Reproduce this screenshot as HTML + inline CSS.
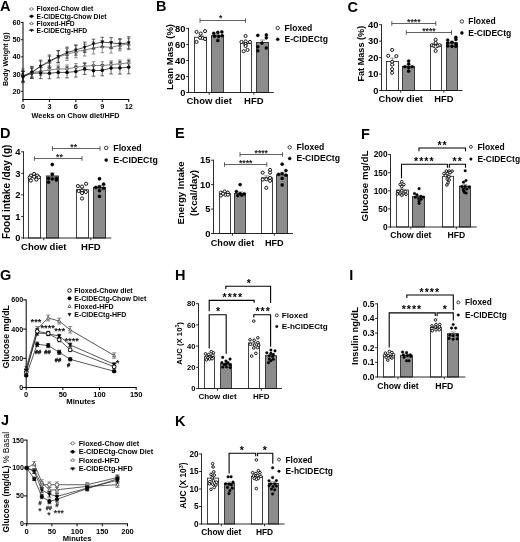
<!DOCTYPE html>
<html><head><meta charset="utf-8"><title>Figure</title>
<style>html,body{margin:0;padding:0;background:#fff}svg{display:block}</style></head>
<body>
<svg width="520" height="542" viewBox="0 0 520 542" font-family='"Liberation Sans", sans-serif'>
<rect width="520" height="542" fill="#fff"/>
<text x="0.00" y="11.30" font-size="14.5" text-anchor="start" font-weight="bold" fill="#000">A</text>
<text x="156.00" y="11.30" font-size="14.5" text-anchor="start" font-weight="bold" fill="#000">B</text>
<text x="347.50" y="12.00" font-size="14.5" text-anchor="start" font-weight="bold" fill="#000">C</text>
<text x="0.00" y="138.30" font-size="14.5" text-anchor="start" font-weight="bold" fill="#000">D</text>
<text x="175.00" y="137.70" font-size="14.5" text-anchor="start" font-weight="bold" fill="#000">E</text>
<text x="361.00" y="138.80" font-size="14.5" text-anchor="start" font-weight="bold" fill="#000">F</text>
<text x="0.00" y="279.50" font-size="14.5" text-anchor="start" font-weight="bold" fill="#000">G</text>
<text x="175.00" y="280.00" font-size="14.5" text-anchor="start" font-weight="bold" fill="#000">H</text>
<text x="349.30" y="280.00" font-size="14.5" text-anchor="start" font-weight="bold" fill="#000">I</text>
<text x="1.00" y="425.00" font-size="14.5" text-anchor="start" font-weight="bold" fill="#000">J</text>
<text x="175.00" y="426.30" font-size="14.5" text-anchor="start" font-weight="bold" fill="#000">K</text>
<polyline points="23.00,75.82 31.81,72.38 40.62,71.52 49.43,69.80 58.24,68.94 67.05,68.94 75.86,67.22 84.67,66.36 93.48,65.50 102.29,65.50 111.10,64.64 119.91,63.78 128.72,62.92" fill="none" stroke="#666" stroke-width="0.8" stroke-linejoin="miter"/>
<line x1="23.00" y1="68.94" x2="23.00" y2="82.70" stroke="#666" stroke-width="0.7" stroke-linecap="butt"/>
<line x1="21.20" y1="68.94" x2="24.80" y2="68.94" stroke="#666" stroke-width="0.7" stroke-linecap="butt"/>
<line x1="21.20" y1="82.70" x2="24.80" y2="82.70" stroke="#666" stroke-width="0.7" stroke-linecap="butt"/>
<line x1="31.81" y1="68.08" x2="31.81" y2="76.68" stroke="#666" stroke-width="0.7" stroke-linecap="butt"/>
<line x1="30.01" y1="68.08" x2="33.61" y2="68.08" stroke="#666" stroke-width="0.7" stroke-linecap="butt"/>
<line x1="30.01" y1="76.68" x2="33.61" y2="76.68" stroke="#666" stroke-width="0.7" stroke-linecap="butt"/>
<line x1="40.62" y1="67.56" x2="40.62" y2="75.48" stroke="#666" stroke-width="0.7" stroke-linecap="butt"/>
<line x1="38.82" y1="67.56" x2="42.42" y2="67.56" stroke="#666" stroke-width="0.7" stroke-linecap="butt"/>
<line x1="38.82" y1="75.48" x2="42.42" y2="75.48" stroke="#666" stroke-width="0.7" stroke-linecap="butt"/>
<line x1="49.43" y1="65.84" x2="49.43" y2="73.76" stroke="#666" stroke-width="0.7" stroke-linecap="butt"/>
<line x1="47.63" y1="65.84" x2="51.23" y2="65.84" stroke="#666" stroke-width="0.7" stroke-linecap="butt"/>
<line x1="47.63" y1="73.76" x2="51.23" y2="73.76" stroke="#666" stroke-width="0.7" stroke-linecap="butt"/>
<line x1="58.24" y1="64.98" x2="58.24" y2="72.90" stroke="#666" stroke-width="0.7" stroke-linecap="butt"/>
<line x1="56.44" y1="64.98" x2="60.04" y2="64.98" stroke="#666" stroke-width="0.7" stroke-linecap="butt"/>
<line x1="56.44" y1="72.90" x2="60.04" y2="72.90" stroke="#666" stroke-width="0.7" stroke-linecap="butt"/>
<line x1="67.05" y1="64.98" x2="67.05" y2="72.90" stroke="#666" stroke-width="0.7" stroke-linecap="butt"/>
<line x1="65.25" y1="64.98" x2="68.85" y2="64.98" stroke="#666" stroke-width="0.7" stroke-linecap="butt"/>
<line x1="65.25" y1="72.90" x2="68.85" y2="72.90" stroke="#666" stroke-width="0.7" stroke-linecap="butt"/>
<line x1="75.86" y1="63.44" x2="75.86" y2="71.00" stroke="#666" stroke-width="0.7" stroke-linecap="butt"/>
<line x1="74.06" y1="63.44" x2="77.66" y2="63.44" stroke="#666" stroke-width="0.7" stroke-linecap="butt"/>
<line x1="74.06" y1="71.00" x2="77.66" y2="71.00" stroke="#666" stroke-width="0.7" stroke-linecap="butt"/>
<line x1="84.67" y1="62.58" x2="84.67" y2="70.14" stroke="#666" stroke-width="0.7" stroke-linecap="butt"/>
<line x1="82.87" y1="62.58" x2="86.47" y2="62.58" stroke="#666" stroke-width="0.7" stroke-linecap="butt"/>
<line x1="82.87" y1="70.14" x2="86.47" y2="70.14" stroke="#666" stroke-width="0.7" stroke-linecap="butt"/>
<line x1="93.48" y1="61.72" x2="93.48" y2="69.28" stroke="#666" stroke-width="0.7" stroke-linecap="butt"/>
<line x1="91.68" y1="61.72" x2="95.28" y2="61.72" stroke="#666" stroke-width="0.7" stroke-linecap="butt"/>
<line x1="91.68" y1="69.28" x2="95.28" y2="69.28" stroke="#666" stroke-width="0.7" stroke-linecap="butt"/>
<line x1="102.29" y1="61.72" x2="102.29" y2="69.28" stroke="#666" stroke-width="0.7" stroke-linecap="butt"/>
<line x1="100.49" y1="61.72" x2="104.09" y2="61.72" stroke="#666" stroke-width="0.7" stroke-linecap="butt"/>
<line x1="100.49" y1="69.28" x2="104.09" y2="69.28" stroke="#666" stroke-width="0.7" stroke-linecap="butt"/>
<line x1="111.10" y1="60.86" x2="111.10" y2="68.42" stroke="#666" stroke-width="0.7" stroke-linecap="butt"/>
<line x1="109.30" y1="60.86" x2="112.90" y2="60.86" stroke="#666" stroke-width="0.7" stroke-linecap="butt"/>
<line x1="109.30" y1="68.42" x2="112.90" y2="68.42" stroke="#666" stroke-width="0.7" stroke-linecap="butt"/>
<line x1="119.91" y1="60.00" x2="119.91" y2="67.56" stroke="#666" stroke-width="0.7" stroke-linecap="butt"/>
<line x1="118.11" y1="60.00" x2="121.71" y2="60.00" stroke="#666" stroke-width="0.7" stroke-linecap="butt"/>
<line x1="118.11" y1="67.56" x2="121.71" y2="67.56" stroke="#666" stroke-width="0.7" stroke-linecap="butt"/>
<line x1="128.72" y1="59.14" x2="128.72" y2="66.70" stroke="#666" stroke-width="0.7" stroke-linecap="butt"/>
<line x1="126.92" y1="59.14" x2="130.52" y2="59.14" stroke="#666" stroke-width="0.7" stroke-linecap="butt"/>
<line x1="126.92" y1="66.70" x2="130.52" y2="66.70" stroke="#666" stroke-width="0.7" stroke-linecap="butt"/>
<circle cx="23.00" cy="75.82" r="1.5" fill="#fff" stroke="#555" stroke-width="0.8"/>
<circle cx="31.81" cy="72.38" r="1.5" fill="#fff" stroke="#555" stroke-width="0.8"/>
<circle cx="40.62" cy="71.52" r="1.5" fill="#fff" stroke="#555" stroke-width="0.8"/>
<circle cx="49.43" cy="69.80" r="1.5" fill="#fff" stroke="#555" stroke-width="0.8"/>
<circle cx="58.24" cy="68.94" r="1.5" fill="#fff" stroke="#555" stroke-width="0.8"/>
<circle cx="67.05" cy="68.94" r="1.5" fill="#fff" stroke="#555" stroke-width="0.8"/>
<circle cx="75.86" cy="67.22" r="1.5" fill="#fff" stroke="#555" stroke-width="0.8"/>
<circle cx="84.67" cy="66.36" r="1.5" fill="#fff" stroke="#555" stroke-width="0.8"/>
<circle cx="93.48" cy="65.50" r="1.5" fill="#fff" stroke="#555" stroke-width="0.8"/>
<circle cx="102.29" cy="65.50" r="1.5" fill="#fff" stroke="#555" stroke-width="0.8"/>
<circle cx="111.10" cy="64.64" r="1.5" fill="#fff" stroke="#555" stroke-width="0.8"/>
<circle cx="119.91" cy="63.78" r="1.5" fill="#fff" stroke="#555" stroke-width="0.8"/>
<circle cx="128.72" cy="62.92" r="1.5" fill="#fff" stroke="#555" stroke-width="0.8"/>
<polyline points="23.00,76.68 31.81,73.24 40.62,73.07 49.43,73.24 58.24,72.38 67.05,72.38 75.86,71.52 84.67,68.94 93.48,70.66 102.29,70.32 111.10,68.08 119.91,67.91 128.72,67.22" fill="none" stroke="#222" stroke-width="0.8" stroke-linejoin="miter"/>
<line x1="23.00" y1="71.52" x2="23.00" y2="81.84" stroke="#222" stroke-width="0.7" stroke-linecap="butt"/>
<line x1="21.20" y1="71.52" x2="24.80" y2="71.52" stroke="#222" stroke-width="0.7" stroke-linecap="butt"/>
<line x1="21.20" y1="81.84" x2="24.80" y2="81.84" stroke="#222" stroke-width="0.7" stroke-linecap="butt"/>
<line x1="31.81" y1="68.08" x2="31.81" y2="78.40" stroke="#222" stroke-width="0.7" stroke-linecap="butt"/>
<line x1="30.01" y1="68.08" x2="33.61" y2="68.08" stroke="#222" stroke-width="0.7" stroke-linecap="butt"/>
<line x1="30.01" y1="78.40" x2="33.61" y2="78.40" stroke="#222" stroke-width="0.7" stroke-linecap="butt"/>
<line x1="40.62" y1="67.56" x2="40.62" y2="78.57" stroke="#222" stroke-width="0.7" stroke-linecap="butt"/>
<line x1="38.82" y1="67.56" x2="42.42" y2="67.56" stroke="#222" stroke-width="0.7" stroke-linecap="butt"/>
<line x1="38.82" y1="78.57" x2="42.42" y2="78.57" stroke="#222" stroke-width="0.7" stroke-linecap="butt"/>
<line x1="49.43" y1="67.74" x2="49.43" y2="78.74" stroke="#222" stroke-width="0.7" stroke-linecap="butt"/>
<line x1="47.63" y1="67.74" x2="51.23" y2="67.74" stroke="#222" stroke-width="0.7" stroke-linecap="butt"/>
<line x1="47.63" y1="78.74" x2="51.23" y2="78.74" stroke="#222" stroke-width="0.7" stroke-linecap="butt"/>
<line x1="58.24" y1="66.88" x2="58.24" y2="77.88" stroke="#222" stroke-width="0.7" stroke-linecap="butt"/>
<line x1="56.44" y1="66.88" x2="60.04" y2="66.88" stroke="#222" stroke-width="0.7" stroke-linecap="butt"/>
<line x1="56.44" y1="77.88" x2="60.04" y2="77.88" stroke="#222" stroke-width="0.7" stroke-linecap="butt"/>
<line x1="67.05" y1="66.88" x2="67.05" y2="77.88" stroke="#222" stroke-width="0.7" stroke-linecap="butt"/>
<line x1="65.25" y1="66.88" x2="68.85" y2="66.88" stroke="#222" stroke-width="0.7" stroke-linecap="butt"/>
<line x1="65.25" y1="77.88" x2="68.85" y2="77.88" stroke="#222" stroke-width="0.7" stroke-linecap="butt"/>
<line x1="75.86" y1="66.02" x2="75.86" y2="77.02" stroke="#222" stroke-width="0.7" stroke-linecap="butt"/>
<line x1="74.06" y1="66.02" x2="77.66" y2="66.02" stroke="#222" stroke-width="0.7" stroke-linecap="butt"/>
<line x1="74.06" y1="77.02" x2="77.66" y2="77.02" stroke="#222" stroke-width="0.7" stroke-linecap="butt"/>
<line x1="84.67" y1="63.44" x2="84.67" y2="74.44" stroke="#222" stroke-width="0.7" stroke-linecap="butt"/>
<line x1="82.87" y1="63.44" x2="86.47" y2="63.44" stroke="#222" stroke-width="0.7" stroke-linecap="butt"/>
<line x1="82.87" y1="74.44" x2="86.47" y2="74.44" stroke="#222" stroke-width="0.7" stroke-linecap="butt"/>
<line x1="93.48" y1="65.16" x2="93.48" y2="76.16" stroke="#222" stroke-width="0.7" stroke-linecap="butt"/>
<line x1="91.68" y1="65.16" x2="95.28" y2="65.16" stroke="#222" stroke-width="0.7" stroke-linecap="butt"/>
<line x1="91.68" y1="76.16" x2="95.28" y2="76.16" stroke="#222" stroke-width="0.7" stroke-linecap="butt"/>
<line x1="102.29" y1="64.81" x2="102.29" y2="75.82" stroke="#222" stroke-width="0.7" stroke-linecap="butt"/>
<line x1="100.49" y1="64.81" x2="104.09" y2="64.81" stroke="#222" stroke-width="0.7" stroke-linecap="butt"/>
<line x1="100.49" y1="75.82" x2="104.09" y2="75.82" stroke="#222" stroke-width="0.7" stroke-linecap="butt"/>
<line x1="111.10" y1="62.23" x2="111.10" y2="73.93" stroke="#222" stroke-width="0.7" stroke-linecap="butt"/>
<line x1="109.30" y1="62.23" x2="112.90" y2="62.23" stroke="#222" stroke-width="0.7" stroke-linecap="butt"/>
<line x1="109.30" y1="73.93" x2="112.90" y2="73.93" stroke="#222" stroke-width="0.7" stroke-linecap="butt"/>
<line x1="119.91" y1="61.72" x2="119.91" y2="74.10" stroke="#222" stroke-width="0.7" stroke-linecap="butt"/>
<line x1="118.11" y1="61.72" x2="121.71" y2="61.72" stroke="#222" stroke-width="0.7" stroke-linecap="butt"/>
<line x1="118.11" y1="74.10" x2="121.71" y2="74.10" stroke="#222" stroke-width="0.7" stroke-linecap="butt"/>
<line x1="128.72" y1="60.68" x2="128.72" y2="73.76" stroke="#222" stroke-width="0.7" stroke-linecap="butt"/>
<line x1="126.92" y1="60.68" x2="130.52" y2="60.68" stroke="#222" stroke-width="0.7" stroke-linecap="butt"/>
<line x1="126.92" y1="73.76" x2="130.52" y2="73.76" stroke="#222" stroke-width="0.7" stroke-linecap="butt"/>
<circle cx="23.00" cy="76.68" r="1.6" fill="#000" stroke="#000" stroke-width="0.2"/>
<circle cx="31.81" cy="73.24" r="1.6" fill="#000" stroke="#000" stroke-width="0.2"/>
<circle cx="40.62" cy="73.07" r="1.6" fill="#000" stroke="#000" stroke-width="0.2"/>
<circle cx="49.43" cy="73.24" r="1.6" fill="#000" stroke="#000" stroke-width="0.2"/>
<circle cx="58.24" cy="72.38" r="1.6" fill="#000" stroke="#000" stroke-width="0.2"/>
<circle cx="67.05" cy="72.38" r="1.6" fill="#000" stroke="#000" stroke-width="0.2"/>
<circle cx="75.86" cy="71.52" r="1.6" fill="#000" stroke="#000" stroke-width="0.2"/>
<circle cx="84.67" cy="68.94" r="1.6" fill="#000" stroke="#000" stroke-width="0.2"/>
<circle cx="93.48" cy="70.66" r="1.6" fill="#000" stroke="#000" stroke-width="0.2"/>
<circle cx="102.29" cy="70.32" r="1.6" fill="#000" stroke="#000" stroke-width="0.2"/>
<circle cx="111.10" cy="68.08" r="1.6" fill="#000" stroke="#000" stroke-width="0.2"/>
<circle cx="119.91" cy="67.91" r="1.6" fill="#000" stroke="#000" stroke-width="0.2"/>
<circle cx="128.72" cy="67.22" r="1.6" fill="#000" stroke="#000" stroke-width="0.2"/>
<polyline points="23.00,75.82 31.81,72.38 40.62,66.36 49.43,62.06 58.24,56.90 67.05,54.32 75.86,51.74 84.67,50.02 93.48,47.96 102.29,46.58 111.10,47.44 119.91,45.20 128.72,44.00" fill="none" stroke="#666" stroke-width="0.8" stroke-linejoin="miter"/>
<line x1="23.00" y1="70.66" x2="23.00" y2="80.98" stroke="#666" stroke-width="0.7" stroke-linecap="butt"/>
<line x1="21.20" y1="70.66" x2="24.80" y2="70.66" stroke="#666" stroke-width="0.7" stroke-linecap="butt"/>
<line x1="21.20" y1="80.98" x2="24.80" y2="80.98" stroke="#666" stroke-width="0.7" stroke-linecap="butt"/>
<line x1="31.81" y1="67.22" x2="31.81" y2="77.54" stroke="#666" stroke-width="0.7" stroke-linecap="butt"/>
<line x1="30.01" y1="67.22" x2="33.61" y2="67.22" stroke="#666" stroke-width="0.7" stroke-linecap="butt"/>
<line x1="30.01" y1="77.54" x2="33.61" y2="77.54" stroke="#666" stroke-width="0.7" stroke-linecap="butt"/>
<line x1="40.62" y1="61.20" x2="40.62" y2="71.52" stroke="#666" stroke-width="0.7" stroke-linecap="butt"/>
<line x1="38.82" y1="61.20" x2="42.42" y2="61.20" stroke="#666" stroke-width="0.7" stroke-linecap="butt"/>
<line x1="38.82" y1="71.52" x2="42.42" y2="71.52" stroke="#666" stroke-width="0.7" stroke-linecap="butt"/>
<line x1="49.43" y1="56.38" x2="49.43" y2="67.74" stroke="#666" stroke-width="0.7" stroke-linecap="butt"/>
<line x1="47.63" y1="56.38" x2="51.23" y2="56.38" stroke="#666" stroke-width="0.7" stroke-linecap="butt"/>
<line x1="47.63" y1="67.74" x2="51.23" y2="67.74" stroke="#666" stroke-width="0.7" stroke-linecap="butt"/>
<line x1="58.24" y1="50.88" x2="58.24" y2="62.92" stroke="#666" stroke-width="0.7" stroke-linecap="butt"/>
<line x1="56.44" y1="50.88" x2="60.04" y2="50.88" stroke="#666" stroke-width="0.7" stroke-linecap="butt"/>
<line x1="56.44" y1="62.92" x2="60.04" y2="62.92" stroke="#666" stroke-width="0.7" stroke-linecap="butt"/>
<line x1="67.05" y1="48.30" x2="67.05" y2="60.34" stroke="#666" stroke-width="0.7" stroke-linecap="butt"/>
<line x1="65.25" y1="48.30" x2="68.85" y2="48.30" stroke="#666" stroke-width="0.7" stroke-linecap="butt"/>
<line x1="65.25" y1="60.34" x2="68.85" y2="60.34" stroke="#666" stroke-width="0.7" stroke-linecap="butt"/>
<line x1="75.86" y1="45.72" x2="75.86" y2="57.76" stroke="#666" stroke-width="0.7" stroke-linecap="butt"/>
<line x1="74.06" y1="45.72" x2="77.66" y2="45.72" stroke="#666" stroke-width="0.7" stroke-linecap="butt"/>
<line x1="74.06" y1="57.76" x2="77.66" y2="57.76" stroke="#666" stroke-width="0.7" stroke-linecap="butt"/>
<line x1="84.67" y1="44.00" x2="84.67" y2="56.04" stroke="#666" stroke-width="0.7" stroke-linecap="butt"/>
<line x1="82.87" y1="44.00" x2="86.47" y2="44.00" stroke="#666" stroke-width="0.7" stroke-linecap="butt"/>
<line x1="82.87" y1="56.04" x2="86.47" y2="56.04" stroke="#666" stroke-width="0.7" stroke-linecap="butt"/>
<line x1="93.48" y1="41.94" x2="93.48" y2="53.98" stroke="#666" stroke-width="0.7" stroke-linecap="butt"/>
<line x1="91.68" y1="41.94" x2="95.28" y2="41.94" stroke="#666" stroke-width="0.7" stroke-linecap="butt"/>
<line x1="91.68" y1="53.98" x2="95.28" y2="53.98" stroke="#666" stroke-width="0.7" stroke-linecap="butt"/>
<line x1="102.29" y1="40.56" x2="102.29" y2="52.60" stroke="#666" stroke-width="0.7" stroke-linecap="butt"/>
<line x1="100.49" y1="40.56" x2="104.09" y2="40.56" stroke="#666" stroke-width="0.7" stroke-linecap="butt"/>
<line x1="100.49" y1="52.60" x2="104.09" y2="52.60" stroke="#666" stroke-width="0.7" stroke-linecap="butt"/>
<line x1="111.10" y1="41.76" x2="111.10" y2="53.12" stroke="#666" stroke-width="0.7" stroke-linecap="butt"/>
<line x1="109.30" y1="41.76" x2="112.90" y2="41.76" stroke="#666" stroke-width="0.7" stroke-linecap="butt"/>
<line x1="109.30" y1="53.12" x2="112.90" y2="53.12" stroke="#666" stroke-width="0.7" stroke-linecap="butt"/>
<line x1="119.91" y1="39.53" x2="119.91" y2="50.88" stroke="#666" stroke-width="0.7" stroke-linecap="butt"/>
<line x1="118.11" y1="39.53" x2="121.71" y2="39.53" stroke="#666" stroke-width="0.7" stroke-linecap="butt"/>
<line x1="118.11" y1="50.88" x2="121.71" y2="50.88" stroke="#666" stroke-width="0.7" stroke-linecap="butt"/>
<line x1="128.72" y1="38.32" x2="128.72" y2="49.68" stroke="#666" stroke-width="0.7" stroke-linecap="butt"/>
<line x1="126.92" y1="38.32" x2="130.52" y2="38.32" stroke="#666" stroke-width="0.7" stroke-linecap="butt"/>
<line x1="126.92" y1="49.68" x2="130.52" y2="49.68" stroke="#666" stroke-width="0.7" stroke-linecap="butt"/>
<polygon points="23.00,74.12 21.39,77.01 24.61,77.01" fill="#fff" stroke="#555" stroke-width="0.8"/>
<polygon points="31.81,70.68 30.20,73.57 33.43,73.57" fill="#fff" stroke="#555" stroke-width="0.8"/>
<polygon points="40.62,64.66 39.01,67.55 42.24,67.55" fill="#fff" stroke="#555" stroke-width="0.8"/>
<polygon points="49.43,60.36 47.81,63.25 51.05,63.25" fill="#fff" stroke="#555" stroke-width="0.8"/>
<polygon points="58.24,55.20 56.62,58.09 59.86,58.09" fill="#fff" stroke="#555" stroke-width="0.8"/>
<polygon points="67.05,52.62 65.44,55.51 68.67,55.51" fill="#fff" stroke="#555" stroke-width="0.8"/>
<polygon points="75.86,50.04 74.25,52.93 77.47,52.93" fill="#fff" stroke="#555" stroke-width="0.8"/>
<polygon points="84.67,48.32 83.06,51.21 86.28,51.21" fill="#fff" stroke="#555" stroke-width="0.8"/>
<polygon points="93.48,46.26 91.87,49.15 95.09,49.15" fill="#fff" stroke="#555" stroke-width="0.8"/>
<polygon points="102.29,44.88 100.68,47.77 103.91,47.77" fill="#fff" stroke="#555" stroke-width="0.8"/>
<polygon points="111.10,45.74 109.49,48.63 112.72,48.63" fill="#fff" stroke="#555" stroke-width="0.8"/>
<polygon points="119.91,43.50 118.30,46.39 121.53,46.39" fill="#fff" stroke="#555" stroke-width="0.8"/>
<polygon points="128.72,42.30 127.11,45.19 130.34,45.19" fill="#fff" stroke="#555" stroke-width="0.8"/>
<polyline points="23.00,76.68 31.81,72.38 40.62,66.19 49.43,61.03 58.24,56.56 67.05,52.60 75.86,50.02 84.67,47.27 93.48,44.00 102.29,42.11 111.10,42.80 119.91,43.83 128.72,42.80" fill="none" stroke="#222" stroke-width="0.8" stroke-linejoin="miter"/>
<line x1="23.00" y1="71.52" x2="23.00" y2="81.84" stroke="#222" stroke-width="0.7" stroke-linecap="butt"/>
<line x1="21.20" y1="71.52" x2="24.80" y2="71.52" stroke="#222" stroke-width="0.7" stroke-linecap="butt"/>
<line x1="21.20" y1="81.84" x2="24.80" y2="81.84" stroke="#222" stroke-width="0.7" stroke-linecap="butt"/>
<line x1="31.81" y1="66.36" x2="31.81" y2="78.40" stroke="#222" stroke-width="0.7" stroke-linecap="butt"/>
<line x1="30.01" y1="66.36" x2="33.61" y2="66.36" stroke="#222" stroke-width="0.7" stroke-linecap="butt"/>
<line x1="30.01" y1="78.40" x2="33.61" y2="78.40" stroke="#222" stroke-width="0.7" stroke-linecap="butt"/>
<line x1="40.62" y1="60.17" x2="40.62" y2="72.21" stroke="#222" stroke-width="0.7" stroke-linecap="butt"/>
<line x1="38.82" y1="60.17" x2="42.42" y2="60.17" stroke="#222" stroke-width="0.7" stroke-linecap="butt"/>
<line x1="38.82" y1="72.21" x2="42.42" y2="72.21" stroke="#222" stroke-width="0.7" stroke-linecap="butt"/>
<line x1="49.43" y1="55.01" x2="49.43" y2="67.05" stroke="#222" stroke-width="0.7" stroke-linecap="butt"/>
<line x1="47.63" y1="55.01" x2="51.23" y2="55.01" stroke="#222" stroke-width="0.7" stroke-linecap="butt"/>
<line x1="47.63" y1="67.05" x2="51.23" y2="67.05" stroke="#222" stroke-width="0.7" stroke-linecap="butt"/>
<line x1="58.24" y1="50.54" x2="58.24" y2="62.58" stroke="#222" stroke-width="0.7" stroke-linecap="butt"/>
<line x1="56.44" y1="50.54" x2="60.04" y2="50.54" stroke="#222" stroke-width="0.7" stroke-linecap="butt"/>
<line x1="56.44" y1="62.58" x2="60.04" y2="62.58" stroke="#222" stroke-width="0.7" stroke-linecap="butt"/>
<line x1="67.05" y1="47.10" x2="67.05" y2="58.10" stroke="#222" stroke-width="0.7" stroke-linecap="butt"/>
<line x1="65.25" y1="47.10" x2="68.85" y2="47.10" stroke="#222" stroke-width="0.7" stroke-linecap="butt"/>
<line x1="65.25" y1="58.10" x2="68.85" y2="58.10" stroke="#222" stroke-width="0.7" stroke-linecap="butt"/>
<line x1="75.86" y1="44.86" x2="75.86" y2="55.18" stroke="#222" stroke-width="0.7" stroke-linecap="butt"/>
<line x1="74.06" y1="44.86" x2="77.66" y2="44.86" stroke="#222" stroke-width="0.7" stroke-linecap="butt"/>
<line x1="74.06" y1="55.18" x2="77.66" y2="55.18" stroke="#222" stroke-width="0.7" stroke-linecap="butt"/>
<line x1="84.67" y1="42.11" x2="84.67" y2="52.43" stroke="#222" stroke-width="0.7" stroke-linecap="butt"/>
<line x1="82.87" y1="42.11" x2="86.47" y2="42.11" stroke="#222" stroke-width="0.7" stroke-linecap="butt"/>
<line x1="82.87" y1="52.43" x2="86.47" y2="52.43" stroke="#222" stroke-width="0.7" stroke-linecap="butt"/>
<line x1="93.48" y1="39.18" x2="93.48" y2="48.82" stroke="#222" stroke-width="0.7" stroke-linecap="butt"/>
<line x1="91.68" y1="39.18" x2="95.28" y2="39.18" stroke="#222" stroke-width="0.7" stroke-linecap="butt"/>
<line x1="91.68" y1="48.82" x2="95.28" y2="48.82" stroke="#222" stroke-width="0.7" stroke-linecap="butt"/>
<line x1="102.29" y1="37.29" x2="102.29" y2="46.92" stroke="#222" stroke-width="0.7" stroke-linecap="butt"/>
<line x1="100.49" y1="37.29" x2="104.09" y2="37.29" stroke="#222" stroke-width="0.7" stroke-linecap="butt"/>
<line x1="100.49" y1="46.92" x2="104.09" y2="46.92" stroke="#222" stroke-width="0.7" stroke-linecap="butt"/>
<line x1="111.10" y1="37.64" x2="111.10" y2="47.96" stroke="#222" stroke-width="0.7" stroke-linecap="butt"/>
<line x1="109.30" y1="37.64" x2="112.90" y2="37.64" stroke="#222" stroke-width="0.7" stroke-linecap="butt"/>
<line x1="109.30" y1="47.96" x2="112.90" y2="47.96" stroke="#222" stroke-width="0.7" stroke-linecap="butt"/>
<line x1="119.91" y1="38.67" x2="119.91" y2="48.99" stroke="#222" stroke-width="0.7" stroke-linecap="butt"/>
<line x1="118.11" y1="38.67" x2="121.71" y2="38.67" stroke="#222" stroke-width="0.7" stroke-linecap="butt"/>
<line x1="118.11" y1="48.99" x2="121.71" y2="48.99" stroke="#222" stroke-width="0.7" stroke-linecap="butt"/>
<line x1="128.72" y1="36.78" x2="128.72" y2="48.82" stroke="#222" stroke-width="0.7" stroke-linecap="butt"/>
<line x1="126.92" y1="36.78" x2="130.52" y2="36.78" stroke="#222" stroke-width="0.7" stroke-linecap="butt"/>
<line x1="126.92" y1="48.82" x2="130.52" y2="48.82" stroke="#222" stroke-width="0.7" stroke-linecap="butt"/>
<polygon points="23.00,78.38 21.39,75.49 24.61,75.49" fill="#000" stroke="#000" stroke-width="0.3"/>
<polygon points="31.81,74.08 30.20,71.19 33.43,71.19" fill="#000" stroke="#000" stroke-width="0.3"/>
<polygon points="40.62,67.89 39.01,65.00 42.24,65.00" fill="#000" stroke="#000" stroke-width="0.3"/>
<polygon points="49.43,62.73 47.81,59.84 51.05,59.84" fill="#000" stroke="#000" stroke-width="0.3"/>
<polygon points="58.24,58.26 56.62,55.37 59.86,55.37" fill="#000" stroke="#000" stroke-width="0.3"/>
<polygon points="67.05,54.30 65.44,51.41 68.67,51.41" fill="#000" stroke="#000" stroke-width="0.3"/>
<polygon points="75.86,51.72 74.25,48.83 77.47,48.83" fill="#000" stroke="#000" stroke-width="0.3"/>
<polygon points="84.67,48.97 83.06,46.08 86.28,46.08" fill="#000" stroke="#000" stroke-width="0.3"/>
<polygon points="93.48,45.70 91.87,42.81 95.09,42.81" fill="#000" stroke="#000" stroke-width="0.3"/>
<polygon points="102.29,43.81 100.68,40.92 103.91,40.92" fill="#000" stroke="#000" stroke-width="0.3"/>
<polygon points="111.10,44.50 109.49,41.61 112.72,41.61" fill="#000" stroke="#000" stroke-width="0.3"/>
<polygon points="119.91,45.53 118.30,42.64 121.53,42.64" fill="#000" stroke="#000" stroke-width="0.3"/>
<polygon points="128.72,44.50 127.11,41.61 130.34,41.61" fill="#000" stroke="#000" stroke-width="0.3"/>
<line x1="23.00" y1="22.00" x2="23.00" y2="100.00" stroke="#000" stroke-width="1" stroke-linecap="butt"/>
<line x1="22.50" y1="99.50" x2="129.22" y2="99.50" stroke="#000" stroke-width="1" stroke-linecap="butt"/>
<line x1="21.00" y1="91.30" x2="23.00" y2="91.30" stroke="#000" stroke-width="0.9" stroke-linecap="butt"/>
<text x="20.70" y="93.85" font-size="7.4" text-anchor="end" font-weight="bold" fill="#000">20</text>
<line x1="21.00" y1="74.10" x2="23.00" y2="74.10" stroke="#000" stroke-width="0.9" stroke-linecap="butt"/>
<text x="20.70" y="76.65" font-size="7.4" text-anchor="end" font-weight="bold" fill="#000">30</text>
<line x1="21.00" y1="56.90" x2="23.00" y2="56.90" stroke="#000" stroke-width="0.9" stroke-linecap="butt"/>
<text x="20.70" y="59.45" font-size="7.4" text-anchor="end" font-weight="bold" fill="#000">40</text>
<line x1="21.00" y1="39.70" x2="23.00" y2="39.70" stroke="#000" stroke-width="0.9" stroke-linecap="butt"/>
<text x="20.70" y="42.25" font-size="7.4" text-anchor="end" font-weight="bold" fill="#000">50</text>
<line x1="21.00" y1="22.50" x2="23.00" y2="22.50" stroke="#000" stroke-width="0.9" stroke-linecap="butt"/>
<text x="20.70" y="25.05" font-size="7.4" text-anchor="end" font-weight="bold" fill="#000">60</text>
<line x1="23.00" y1="99.50" x2="23.00" y2="102.00" stroke="#000" stroke-width="1" stroke-linecap="butt"/>
<text x="23.00" y="108.52" font-size="7.3" text-anchor="middle" font-weight="bold" fill="#000">0</text>
<line x1="49.43" y1="99.50" x2="49.43" y2="102.00" stroke="#000" stroke-width="1" stroke-linecap="butt"/>
<text x="49.43" y="108.52" font-size="7.3" text-anchor="middle" font-weight="bold" fill="#000">3</text>
<line x1="75.86" y1="99.50" x2="75.86" y2="102.00" stroke="#000" stroke-width="1" stroke-linecap="butt"/>
<text x="75.86" y="108.52" font-size="7.3" text-anchor="middle" font-weight="bold" fill="#000">6</text>
<line x1="102.29" y1="99.50" x2="102.29" y2="102.00" stroke="#000" stroke-width="1" stroke-linecap="butt"/>
<text x="102.29" y="108.52" font-size="7.3" text-anchor="middle" font-weight="bold" fill="#000">9</text>
<line x1="128.72" y1="99.50" x2="128.72" y2="102.00" stroke="#000" stroke-width="1" stroke-linecap="butt"/>
<text x="128.72" y="108.52" font-size="7.3" text-anchor="middle" font-weight="bold" fill="#000">12</text>
<text font-size="7.0" text-anchor="middle" font-weight="bold" transform="translate(7.51 59.30) rotate(-90)">Body Weight (g)</text>
<text x="75.50" y="118.02" font-size="7.3" text-anchor="middle" font-weight="bold" fill="#000">Weeks on Chow diet/HFD</text>
<line x1="28.90" y1="9.00" x2="34.10" y2="9.00" stroke="#666" stroke-width="0.7" stroke-linecap="butt"/>
<line x1="28.90" y1="16.20" x2="34.10" y2="16.20" stroke="#000" stroke-width="0.7" stroke-linecap="butt"/>
<line x1="28.90" y1="23.30" x2="34.10" y2="23.30" stroke="#666" stroke-width="0.7" stroke-linecap="butt"/>
<line x1="28.90" y1="30.40" x2="34.10" y2="30.40" stroke="#000" stroke-width="0.7" stroke-linecap="butt"/>
<circle cx="31.50" cy="9.00" r="1.4" fill="#fff" stroke="#666" stroke-width="0.7"/>
<circle cx="31.50" cy="16.20" r="1.5" fill="#000" stroke="#000" stroke-width="0.2"/>
<polygon points="31.50,21.70 29.98,24.42 33.02,24.42" fill="#fff" stroke="#666" stroke-width="0.7"/>
<polygon points="31.50,32.00 29.98,29.28 33.02,29.28" fill="#000" stroke="#000" stroke-width="0.3"/>
<text x="36.60" y="11.35" font-size="6.8" text-anchor="start" font-weight="bold" fill="#000">Floxed-Chow diet</text>
<text x="36.60" y="18.55" font-size="6.8" text-anchor="start" font-weight="bold" fill="#000">E-CIDECtg-Chow Diet</text>
<text x="36.60" y="25.65" font-size="6.8" text-anchor="start" font-weight="bold" fill="#000">Floxed-HFD</text>
<text x="36.60" y="32.75" font-size="6.8" text-anchor="start" font-weight="bold" fill="#000">E-CIDECtg-HFD</text>
<rect x="194.50" y="37.21" width="12.00" height="55.29" fill="#fff" stroke="#222" stroke-width="0.85"/>
<line x1="200.85" y1="35.61" x2="200.85" y2="38.82" stroke="#777" stroke-width="0.7" stroke-linecap="butt"/>
<line x1="198.35" y1="35.61" x2="203.35" y2="35.61" stroke="#777" stroke-width="0.7" stroke-linecap="butt"/>
<line x1="198.35" y1="38.82" x2="203.35" y2="38.82" stroke="#777" stroke-width="0.7" stroke-linecap="butt"/>
<circle cx="196.54" cy="31.94" r="1.55" fill="#fff" stroke="#000" stroke-width="0.9"/>
<circle cx="205.04" cy="31.12" r="1.55" fill="#fff" stroke="#000" stroke-width="0.9"/>
<circle cx="200.79" cy="33.58" r="1.55" fill="#fff" stroke="#000" stroke-width="0.9"/>
<circle cx="200.13" cy="37.83" r="1.55" fill="#fff" stroke="#000" stroke-width="0.9"/>
<circle cx="202.75" cy="38.15" r="1.55" fill="#fff" stroke="#000" stroke-width="0.9"/>
<circle cx="205.04" cy="38.97" r="1.55" fill="#fff" stroke="#000" stroke-width="0.9"/>
<circle cx="196.54" cy="41.91" r="1.55" fill="#fff" stroke="#000" stroke-width="0.9"/>
<rect x="211.50" y="35.61" width="12.00" height="56.89" fill="#8c8c8c" stroke="#222" stroke-width="0.85"/>
<line x1="217.55" y1="34.41" x2="217.55" y2="35.61" stroke="#777" stroke-width="0.7" stroke-linecap="butt"/>
<line x1="215.05" y1="34.41" x2="220.05" y2="34.41" stroke="#777" stroke-width="0.7" stroke-linecap="butt"/>
<circle cx="213.70" cy="33.25" r="1.6" fill="#000" stroke="#000" stroke-width="0.3"/>
<circle cx="217.79" cy="32.43" r="1.6" fill="#000" stroke="#000" stroke-width="0.3"/>
<circle cx="221.87" cy="31.94" r="1.6" fill="#000" stroke="#000" stroke-width="0.3"/>
<circle cx="214.52" cy="36.19" r="1.6" fill="#000" stroke="#000" stroke-width="0.3"/>
<circle cx="218.60" cy="36.52" r="1.6" fill="#000" stroke="#000" stroke-width="0.3"/>
<circle cx="222.20" cy="35.70" r="1.6" fill="#000" stroke="#000" stroke-width="0.3"/>
<circle cx="217.79" cy="40.60" r="1.6" fill="#000" stroke="#000" stroke-width="0.3"/>
<rect x="240.50" y="43.62" width="11.00" height="48.88" fill="#fff" stroke="#222" stroke-width="0.85"/>
<line x1="245.65" y1="42.18" x2="245.65" y2="45.07" stroke="#777" stroke-width="0.7" stroke-linecap="butt"/>
<line x1="243.15" y1="42.18" x2="248.15" y2="42.18" stroke="#777" stroke-width="0.7" stroke-linecap="butt"/>
<line x1="243.15" y1="45.07" x2="248.15" y2="45.07" stroke="#777" stroke-width="0.7" stroke-linecap="butt"/>
<circle cx="245.57" cy="36.03" r="1.55" fill="#fff" stroke="#000" stroke-width="0.9"/>
<circle cx="241.49" cy="41.91" r="1.55" fill="#fff" stroke="#000" stroke-width="0.9"/>
<circle cx="245.57" cy="41.42" r="1.55" fill="#fff" stroke="#000" stroke-width="0.9"/>
<circle cx="249.99" cy="41.91" r="1.55" fill="#fff" stroke="#000" stroke-width="0.9"/>
<circle cx="245.57" cy="44.20" r="1.55" fill="#fff" stroke="#000" stroke-width="0.9"/>
<circle cx="245.57" cy="46.00" r="1.55" fill="#fff" stroke="#000" stroke-width="0.9"/>
<circle cx="243.61" cy="51.23" r="1.55" fill="#fff" stroke="#000" stroke-width="0.9"/>
<circle cx="247.54" cy="49.92" r="1.55" fill="#fff" stroke="#000" stroke-width="0.9"/>
<rect x="256.50" y="42.42" width="12.00" height="50.08" fill="#8c8c8c" stroke="#222" stroke-width="0.85"/>
<line x1="262.50" y1="40.02" x2="262.50" y2="42.42" stroke="#777" stroke-width="0.7" stroke-linecap="butt"/>
<line x1="260.00" y1="40.02" x2="265.00" y2="40.02" stroke="#777" stroke-width="0.7" stroke-linecap="butt"/>
<circle cx="257.83" cy="35.37" r="1.6" fill="#000" stroke="#000" stroke-width="0.3"/>
<circle cx="266.33" cy="34.88" r="1.6" fill="#000" stroke="#000" stroke-width="0.3"/>
<circle cx="266.33" cy="37.83" r="1.6" fill="#000" stroke="#000" stroke-width="0.3"/>
<circle cx="261.92" cy="43.06" r="1.6" fill="#000" stroke="#000" stroke-width="0.3"/>
<circle cx="257.83" cy="46.82" r="1.6" fill="#000" stroke="#000" stroke-width="0.3"/>
<circle cx="266.33" cy="47.96" r="1.6" fill="#000" stroke="#000" stroke-width="0.3"/>
<circle cx="257.83" cy="50.74" r="1.6" fill="#000" stroke="#000" stroke-width="0.3"/>
<line x1="188.50" y1="27.95" x2="188.50" y2="92.95" stroke="#151515" stroke-width="0.9" stroke-linecap="butt"/>
<line x1="188.05" y1="92.50" x2="273.80" y2="92.50" stroke="#151515" stroke-width="0.9" stroke-linecap="butt"/>
<line x1="186.10" y1="92.50" x2="188.50" y2="92.50" stroke="#151515" stroke-width="0.9" stroke-linecap="butt"/>
<text x="185.50" y="95.74" font-size="9.4" text-anchor="end" font-weight="bold" fill="#000">0</text>
<line x1="186.10" y1="76.47" x2="188.50" y2="76.47" stroke="#151515" stroke-width="0.9" stroke-linecap="butt"/>
<text x="185.50" y="79.72" font-size="9.4" text-anchor="end" font-weight="bold" fill="#000">20</text>
<line x1="186.10" y1="60.45" x2="188.50" y2="60.45" stroke="#151515" stroke-width="0.9" stroke-linecap="butt"/>
<text x="185.50" y="63.69" font-size="9.4" text-anchor="end" font-weight="bold" fill="#000">40</text>
<line x1="186.10" y1="44.43" x2="188.50" y2="44.43" stroke="#151515" stroke-width="0.9" stroke-linecap="butt"/>
<text x="185.50" y="47.67" font-size="9.4" text-anchor="end" font-weight="bold" fill="#000">60</text>
<line x1="186.10" y1="28.40" x2="188.50" y2="28.40" stroke="#151515" stroke-width="0.9" stroke-linecap="butt"/>
<text x="185.50" y="31.64" font-size="9.4" text-anchor="end" font-weight="bold" fill="#000">80</text>
<line x1="209.20" y1="92.50" x2="209.20" y2="94.70" stroke="#151515" stroke-width="0.9" stroke-linecap="butt"/>
<text x="209.20" y="103.78" font-size="9.5" text-anchor="middle" font-weight="bold" fill="#000">Chow diet</text>
<line x1="253.80" y1="92.50" x2="253.80" y2="94.70" stroke="#151515" stroke-width="0.9" stroke-linecap="butt"/>
<text x="253.80" y="103.78" font-size="9.5" text-anchor="middle" font-weight="bold" fill="#000">HFD</text>
<text font-size="9.5" text-anchor="middle" font-weight="bold" transform="translate(172.68 57.00) rotate(-90)">Lean Mass (%)</text>
<circle cx="277.70" cy="28.00" r="1.7" fill="#fff" stroke="#000" stroke-width="0.75"/>
<circle cx="277.70" cy="39.30" r="1.55" fill="#000" stroke="#000" stroke-width="0.3"/>
<text x="284.50" y="30.97" font-size="8.6" text-anchor="start" font-weight="bold" fill="#000">Floxed</text>
<text x="284.50" y="42.27" font-size="8.6" text-anchor="start" font-weight="bold" fill="#000">E-CIDECtg</text>
<line x1="200.00" y1="20.50" x2="245.50" y2="20.50" stroke="#3a3a3a" stroke-width="0.8" stroke-linecap="butt"/>
<line x1="200.00" y1="18.20" x2="200.00" y2="22.80" stroke="#3a3a3a" stroke-width="0.8" stroke-linecap="butt"/>
<line x1="245.50" y1="18.20" x2="245.50" y2="22.80" stroke="#3a3a3a" stroke-width="0.8" stroke-linecap="butt"/>
<text x="220.60" y="21.29" font-size="8.6" text-anchor="middle" font-weight="bold" fill="#222">*</text>
<rect x="386.50" y="61.55" width="12.00" height="28.95" fill="#fff" stroke="#222" stroke-width="0.85"/>
<line x1="392.50" y1="58.09" x2="392.50" y2="65.00" stroke="#777" stroke-width="0.7" stroke-linecap="butt"/>
<line x1="390.00" y1="58.09" x2="395.00" y2="58.09" stroke="#777" stroke-width="0.7" stroke-linecap="butt"/>
<line x1="390.00" y1="65.00" x2="395.00" y2="65.00" stroke="#777" stroke-width="0.7" stroke-linecap="butt"/>
<circle cx="392.13" cy="49.92" r="1.55" fill="#fff" stroke="#000" stroke-width="0.9"/>
<circle cx="388.21" cy="55.81" r="1.55" fill="#fff" stroke="#000" stroke-width="0.9"/>
<circle cx="396.38" cy="56.13" r="1.55" fill="#fff" stroke="#000" stroke-width="0.9"/>
<circle cx="392.13" cy="61.85" r="1.55" fill="#fff" stroke="#000" stroke-width="0.9"/>
<circle cx="392.13" cy="64.63" r="1.55" fill="#fff" stroke="#000" stroke-width="0.9"/>
<circle cx="392.13" cy="69.21" r="1.55" fill="#fff" stroke="#000" stroke-width="0.9"/>
<circle cx="392.13" cy="72.80" r="1.55" fill="#fff" stroke="#000" stroke-width="0.9"/>
<rect x="402.50" y="66.32" width="12.00" height="24.18" fill="#8c8c8c" stroke="#222" stroke-width="0.85"/>
<line x1="408.60" y1="64.84" x2="408.60" y2="66.32" stroke="#777" stroke-width="0.7" stroke-linecap="butt"/>
<line x1="406.10" y1="64.84" x2="411.10" y2="64.84" stroke="#777" stroke-width="0.7" stroke-linecap="butt"/>
<circle cx="408.64" cy="61.04" r="1.6" fill="#000" stroke="#000" stroke-width="0.3"/>
<circle cx="408.64" cy="63.98" r="1.6" fill="#000" stroke="#000" stroke-width="0.3"/>
<circle cx="404.88" cy="66.76" r="1.6" fill="#000" stroke="#000" stroke-width="0.3"/>
<circle cx="412.24" cy="66.76" r="1.6" fill="#000" stroke="#000" stroke-width="0.3"/>
<circle cx="408.64" cy="67.57" r="1.6" fill="#000" stroke="#000" stroke-width="0.3"/>
<circle cx="408.64" cy="71.17" r="1.6" fill="#000" stroke="#000" stroke-width="0.3"/>
<rect x="430.50" y="44.93" width="11.00" height="45.57" fill="#fff" stroke="#222" stroke-width="0.85"/>
<line x1="436.05" y1="43.62" x2="436.05" y2="46.25" stroke="#777" stroke-width="0.7" stroke-linecap="butt"/>
<line x1="433.55" y1="43.62" x2="438.55" y2="43.62" stroke="#777" stroke-width="0.7" stroke-linecap="butt"/>
<line x1="433.55" y1="46.25" x2="438.55" y2="46.25" stroke="#777" stroke-width="0.7" stroke-linecap="butt"/>
<circle cx="435.61" cy="39.79" r="1.55" fill="#fff" stroke="#000" stroke-width="0.9"/>
<circle cx="435.61" cy="43.06" r="1.55" fill="#fff" stroke="#000" stroke-width="0.9"/>
<circle cx="431.85" cy="45.18" r="1.55" fill="#fff" stroke="#000" stroke-width="0.9"/>
<circle cx="439.54" cy="45.18" r="1.55" fill="#fff" stroke="#000" stroke-width="0.9"/>
<circle cx="433.65" cy="45.83" r="1.55" fill="#fff" stroke="#000" stroke-width="0.9"/>
<circle cx="437.57" cy="45.83" r="1.55" fill="#fff" stroke="#000" stroke-width="0.9"/>
<circle cx="435.61" cy="46.65" r="1.55" fill="#fff" stroke="#000" stroke-width="0.9"/>
<circle cx="435.61" cy="50.90" r="1.55" fill="#fff" stroke="#000" stroke-width="0.9"/>
<rect x="446.50" y="42.80" width="11.00" height="47.70" fill="#8c8c8c" stroke="#222" stroke-width="0.85"/>
<line x1="451.90" y1="41.31" x2="451.90" y2="42.80" stroke="#777" stroke-width="0.7" stroke-linecap="butt"/>
<line x1="449.40" y1="41.31" x2="454.40" y2="41.31" stroke="#777" stroke-width="0.7" stroke-linecap="butt"/>
<circle cx="455.88" cy="37.34" r="1.6" fill="#000" stroke="#000" stroke-width="0.3"/>
<circle cx="447.71" cy="40.11" r="1.6" fill="#000" stroke="#000" stroke-width="0.3"/>
<circle cx="455.88" cy="39.46" r="1.6" fill="#000" stroke="#000" stroke-width="0.3"/>
<circle cx="447.71" cy="43.06" r="1.6" fill="#000" stroke="#000" stroke-width="0.3"/>
<circle cx="451.96" cy="42.24" r="1.6" fill="#000" stroke="#000" stroke-width="0.3"/>
<circle cx="455.88" cy="43.87" r="1.6" fill="#000" stroke="#000" stroke-width="0.3"/>
<circle cx="447.71" cy="46.00" r="1.6" fill="#000" stroke="#000" stroke-width="0.3"/>
<circle cx="451.96" cy="46.32" r="1.6" fill="#000" stroke="#000" stroke-width="0.3"/>
<circle cx="455.88" cy="46.32" r="1.6" fill="#000" stroke="#000" stroke-width="0.3"/>
<line x1="381.50" y1="24.25" x2="381.50" y2="90.95" stroke="#151515" stroke-width="0.9" stroke-linecap="butt"/>
<line x1="381.05" y1="90.50" x2="462.50" y2="90.50" stroke="#151515" stroke-width="0.9" stroke-linecap="butt"/>
<line x1="379.10" y1="90.50" x2="381.50" y2="90.50" stroke="#151515" stroke-width="0.9" stroke-linecap="butt"/>
<text x="378.50" y="93.74" font-size="9.4" text-anchor="end" font-weight="bold" fill="#000">0</text>
<line x1="379.10" y1="74.05" x2="381.50" y2="74.05" stroke="#151515" stroke-width="0.9" stroke-linecap="butt"/>
<text x="378.50" y="77.29" font-size="9.4" text-anchor="end" font-weight="bold" fill="#000">10</text>
<line x1="379.10" y1="57.60" x2="381.50" y2="57.60" stroke="#151515" stroke-width="0.9" stroke-linecap="butt"/>
<text x="378.50" y="60.84" font-size="9.4" text-anchor="end" font-weight="bold" fill="#000">20</text>
<line x1="379.10" y1="41.15" x2="381.50" y2="41.15" stroke="#151515" stroke-width="0.9" stroke-linecap="butt"/>
<text x="378.50" y="44.39" font-size="9.4" text-anchor="end" font-weight="bold" fill="#000">30</text>
<line x1="379.10" y1="24.70" x2="381.50" y2="24.70" stroke="#151515" stroke-width="0.9" stroke-linecap="butt"/>
<text x="378.50" y="27.94" font-size="9.4" text-anchor="end" font-weight="bold" fill="#000">40</text>
<line x1="400.70" y1="90.50" x2="400.70" y2="92.70" stroke="#151515" stroke-width="0.9" stroke-linecap="butt"/>
<text x="400.70" y="102.01" font-size="9.3" text-anchor="middle" font-weight="bold" fill="#000">Chow diet</text>
<line x1="443.80" y1="90.50" x2="443.80" y2="92.70" stroke="#151515" stroke-width="0.9" stroke-linecap="butt"/>
<text x="443.80" y="102.01" font-size="9.3" text-anchor="middle" font-weight="bold" fill="#000">HFD</text>
<text font-size="9.15" text-anchor="middle" font-weight="bold" transform="translate(364.06 53.70) rotate(-90)">Fat Mass (%)</text>
<circle cx="461.90" cy="21.40" r="1.7" fill="#fff" stroke="#000" stroke-width="0.75"/>
<circle cx="461.90" cy="32.90" r="1.55" fill="#000" stroke="#000" stroke-width="0.3"/>
<text x="468.30" y="24.33" font-size="8.5" text-anchor="start" font-weight="bold" fill="#000">Floxed</text>
<text x="468.30" y="35.83" font-size="8.5" text-anchor="start" font-weight="bold" fill="#000">E-CIDECtg</text>
<line x1="391.80" y1="23.50" x2="435.80" y2="23.50" stroke="#3a3a3a" stroke-width="0.8" stroke-linecap="butt"/>
<line x1="391.80" y1="21.20" x2="391.80" y2="25.80" stroke="#3a3a3a" stroke-width="0.8" stroke-linecap="butt"/>
<line x1="435.80" y1="21.20" x2="435.80" y2="25.80" stroke="#3a3a3a" stroke-width="0.8" stroke-linecap="butt"/>
<text x="413.80" y="25.19" font-size="8.6" text-anchor="middle" font-weight="bold" fill="#222">****</text>
<line x1="406.30" y1="32.50" x2="451.50" y2="32.50" stroke="#3a3a3a" stroke-width="0.8" stroke-linecap="butt"/>
<line x1="406.30" y1="30.20" x2="406.30" y2="34.80" stroke="#3a3a3a" stroke-width="0.8" stroke-linecap="butt"/>
<line x1="451.50" y1="30.20" x2="451.50" y2="34.80" stroke="#3a3a3a" stroke-width="0.8" stroke-linecap="butt"/>
<text x="428.90" y="33.89" font-size="8.6" text-anchor="middle" font-weight="bold" fill="#222">****</text>
<rect x="28.50" y="176.58" width="12.00" height="61.42" fill="#fff" stroke="#222" stroke-width="0.85"/>
<line x1="34.75" y1="175.72" x2="34.75" y2="177.44" stroke="#777" stroke-width="0.7" stroke-linecap="butt"/>
<line x1="32.25" y1="175.72" x2="37.25" y2="175.72" stroke="#777" stroke-width="0.7" stroke-linecap="butt"/>
<line x1="32.25" y1="177.44" x2="37.25" y2="177.44" stroke="#777" stroke-width="0.7" stroke-linecap="butt"/>
<circle cx="34.13" cy="174.00" r="1.6" fill="#fff" stroke="#000" stroke-width="0.9"/>
<circle cx="30.86" cy="175.63" r="1.6" fill="#fff" stroke="#000" stroke-width="0.9"/>
<circle cx="37.40" cy="175.63" r="1.6" fill="#fff" stroke="#000" stroke-width="0.9"/>
<circle cx="29.72" cy="177.59" r="1.6" fill="#fff" stroke="#000" stroke-width="0.9"/>
<circle cx="34.13" cy="176.78" r="1.6" fill="#fff" stroke="#000" stroke-width="0.9"/>
<circle cx="38.71" cy="177.27" r="1.6" fill="#fff" stroke="#000" stroke-width="0.9"/>
<circle cx="30.86" cy="180.54" r="1.6" fill="#fff" stroke="#000" stroke-width="0.9"/>
<circle cx="36.26" cy="179.56" r="1.6" fill="#fff" stroke="#000" stroke-width="0.9"/>
<rect x="46.50" y="175.94" width="12.00" height="62.06" fill="#8c8c8c" stroke="#222" stroke-width="0.85"/>
<line x1="52.25" y1="172.92" x2="52.25" y2="175.94" stroke="#777" stroke-width="0.7" stroke-linecap="butt"/>
<line x1="49.75" y1="172.92" x2="54.75" y2="172.92" stroke="#777" stroke-width="0.7" stroke-linecap="butt"/>
<circle cx="52.28" cy="164.52" r="1.6500000000000001" fill="#000" stroke="#000" stroke-width="0.3"/>
<circle cx="52.28" cy="174.32" r="1.6500000000000001" fill="#000" stroke="#000" stroke-width="0.3"/>
<circle cx="48.52" cy="178.41" r="1.6500000000000001" fill="#000" stroke="#000" stroke-width="0.3"/>
<circle cx="52.28" cy="178.90" r="1.6500000000000001" fill="#000" stroke="#000" stroke-width="0.3"/>
<circle cx="56.36" cy="178.41" r="1.6500000000000001" fill="#000" stroke="#000" stroke-width="0.3"/>
<circle cx="48.52" cy="182.17" r="1.6500000000000001" fill="#000" stroke="#000" stroke-width="0.3"/>
<circle cx="56.36" cy="180.05" r="1.6500000000000001" fill="#000" stroke="#000" stroke-width="0.3"/>
<rect x="76.50" y="189.73" width="12.00" height="48.27" fill="#fff" stroke="#222" stroke-width="0.85"/>
<line x1="82.10" y1="188.00" x2="82.10" y2="191.45" stroke="#777" stroke-width="0.7" stroke-linecap="butt"/>
<line x1="79.60" y1="188.00" x2="84.60" y2="188.00" stroke="#777" stroke-width="0.7" stroke-linecap="butt"/>
<line x1="79.60" y1="191.45" x2="84.60" y2="191.45" stroke="#777" stroke-width="0.7" stroke-linecap="butt"/>
<circle cx="86.11" cy="183.81" r="1.6" fill="#fff" stroke="#000" stroke-width="0.9"/>
<circle cx="77.94" cy="186.09" r="1.6" fill="#fff" stroke="#000" stroke-width="0.9"/>
<circle cx="82.03" cy="186.58" r="1.6" fill="#fff" stroke="#000" stroke-width="0.9"/>
<circle cx="82.03" cy="190.67" r="1.6" fill="#fff" stroke="#000" stroke-width="0.9"/>
<circle cx="78.76" cy="191.00" r="1.6" fill="#fff" stroke="#000" stroke-width="0.9"/>
<circle cx="85.78" cy="191.98" r="1.6" fill="#fff" stroke="#000" stroke-width="0.9"/>
<circle cx="82.03" cy="193.12" r="1.6" fill="#fff" stroke="#000" stroke-width="0.9"/>
<circle cx="82.03" cy="198.52" r="1.6" fill="#fff" stroke="#000" stroke-width="0.9"/>
<rect x="93.50" y="187.36" width="12.00" height="50.64" fill="#8c8c8c" stroke="#222" stroke-width="0.85"/>
<line x1="99.65" y1="185.42" x2="99.65" y2="187.36" stroke="#777" stroke-width="0.7" stroke-linecap="butt"/>
<line x1="97.15" y1="185.42" x2="102.15" y2="185.42" stroke="#777" stroke-width="0.7" stroke-linecap="butt"/>
<circle cx="99.51" cy="178.74" r="1.6500000000000001" fill="#000" stroke="#000" stroke-width="0.3"/>
<circle cx="103.60" cy="184.13" r="1.6500000000000001" fill="#000" stroke="#000" stroke-width="0.3"/>
<circle cx="95.92" cy="187.40" r="1.6500000000000001" fill="#000" stroke="#000" stroke-width="0.3"/>
<circle cx="99.51" cy="186.91" r="1.6500000000000001" fill="#000" stroke="#000" stroke-width="0.3"/>
<circle cx="103.60" cy="188.22" r="1.6500000000000001" fill="#000" stroke="#000" stroke-width="0.3"/>
<circle cx="99.51" cy="190.67" r="1.6500000000000001" fill="#000" stroke="#000" stroke-width="0.3"/>
<circle cx="99.51" cy="196.39" r="1.6500000000000001" fill="#000" stroke="#000" stroke-width="0.3"/>
<line x1="23.50" y1="151.35" x2="23.50" y2="238.45" stroke="#151515" stroke-width="0.9" stroke-linecap="butt"/>
<line x1="23.05" y1="238.00" x2="111.30" y2="238.00" stroke="#151515" stroke-width="0.9" stroke-linecap="butt"/>
<line x1="21.10" y1="238.00" x2="23.50" y2="238.00" stroke="#151515" stroke-width="0.9" stroke-linecap="butt"/>
<text x="20.50" y="241.24" font-size="9.4" text-anchor="end" font-weight="bold" fill="#000">0</text>
<line x1="21.10" y1="216.45" x2="23.50" y2="216.45" stroke="#151515" stroke-width="0.9" stroke-linecap="butt"/>
<text x="20.50" y="219.69" font-size="9.4" text-anchor="end" font-weight="bold" fill="#000">1</text>
<line x1="21.10" y1="194.90" x2="23.50" y2="194.90" stroke="#151515" stroke-width="0.9" stroke-linecap="butt"/>
<text x="20.50" y="198.14" font-size="9.4" text-anchor="end" font-weight="bold" fill="#000">2</text>
<line x1="21.10" y1="173.35" x2="23.50" y2="173.35" stroke="#151515" stroke-width="0.9" stroke-linecap="butt"/>
<text x="20.50" y="176.59" font-size="9.4" text-anchor="end" font-weight="bold" fill="#000">3</text>
<line x1="21.10" y1="151.80" x2="23.50" y2="151.80" stroke="#151515" stroke-width="0.9" stroke-linecap="butt"/>
<text x="20.50" y="155.04" font-size="9.4" text-anchor="end" font-weight="bold" fill="#000">4</text>
<line x1="43.80" y1="238.00" x2="43.80" y2="240.20" stroke="#151515" stroke-width="0.9" stroke-linecap="butt"/>
<text x="43.80" y="250.28" font-size="9.5" text-anchor="middle" font-weight="bold" fill="#000">Chow diet</text>
<line x1="90.80" y1="238.00" x2="90.80" y2="240.20" stroke="#151515" stroke-width="0.9" stroke-linecap="butt"/>
<text x="90.80" y="250.28" font-size="9.5" text-anchor="middle" font-weight="bold" fill="#000">HFD</text>
<text font-size="10" text-anchor="middle" font-weight="bold" transform="translate(9.75 191.90) rotate(-90)">Food intake /day (g)</text>
<circle cx="106.20" cy="147.90" r="1.75" fill="#fff" stroke="#000" stroke-width="0.75"/>
<circle cx="106.20" cy="160.10" r="1.6" fill="#000" stroke="#000" stroke-width="0.3"/>
<text x="113.30" y="150.94" font-size="8.8" text-anchor="start" font-weight="bold" fill="#000">Floxed</text>
<text x="113.30" y="163.14" font-size="8.8" text-anchor="start" font-weight="bold" fill="#000">E-CIDECtg</text>
<line x1="52.50" y1="148.50" x2="100.00" y2="148.50" stroke="#3a3a3a" stroke-width="0.8" stroke-linecap="butt"/>
<line x1="52.50" y1="146.20" x2="52.50" y2="150.80" stroke="#3a3a3a" stroke-width="0.8" stroke-linecap="butt"/>
<line x1="100.00" y1="146.20" x2="100.00" y2="150.80" stroke="#3a3a3a" stroke-width="0.8" stroke-linecap="butt"/>
<text x="73.70" y="149.79" font-size="8.6" text-anchor="middle" font-weight="bold" fill="#222">**</text>
<line x1="34.40" y1="158.50" x2="82.00" y2="158.50" stroke="#3a3a3a" stroke-width="0.8" stroke-linecap="butt"/>
<line x1="34.40" y1="156.20" x2="34.40" y2="160.80" stroke="#3a3a3a" stroke-width="0.8" stroke-linecap="butt"/>
<line x1="82.00" y1="156.20" x2="82.00" y2="160.80" stroke="#3a3a3a" stroke-width="0.8" stroke-linecap="butt"/>
<text x="59.40" y="159.59" font-size="8.6" text-anchor="middle" font-weight="bold" fill="#222">**</text>
<rect x="219.50" y="193.67" width="11.00" height="39.83" fill="#fff" stroke="#222" stroke-width="0.85"/>
<line x1="224.65" y1="193.09" x2="224.65" y2="194.26" stroke="#777" stroke-width="0.7" stroke-linecap="butt"/>
<line x1="222.15" y1="193.09" x2="227.15" y2="193.09" stroke="#777" stroke-width="0.7" stroke-linecap="butt"/>
<line x1="222.15" y1="194.26" x2="227.15" y2="194.26" stroke="#777" stroke-width="0.7" stroke-linecap="butt"/>
<circle cx="220.86" cy="192.63" r="1.55" fill="#fff" stroke="#000" stroke-width="0.9"/>
<circle cx="224.62" cy="191.49" r="1.55" fill="#fff" stroke="#000" stroke-width="0.9"/>
<circle cx="227.89" cy="192.63" r="1.55" fill="#fff" stroke="#000" stroke-width="0.9"/>
<circle cx="220.86" cy="195.57" r="1.55" fill="#fff" stroke="#000" stroke-width="0.9"/>
<circle cx="225.44" cy="194.76" r="1.55" fill="#fff" stroke="#000" stroke-width="0.9"/>
<circle cx="222.99" cy="193.61" r="1.55" fill="#fff" stroke="#000" stroke-width="0.9"/>
<circle cx="227.89" cy="194.76" r="1.55" fill="#fff" stroke="#000" stroke-width="0.9"/>
<rect x="234.50" y="193.43" width="11.00" height="40.07" fill="#8c8c8c" stroke="#222" stroke-width="0.85"/>
<line x1="240.40" y1="191.96" x2="240.40" y2="193.43" stroke="#777" stroke-width="0.7" stroke-linecap="butt"/>
<line x1="237.90" y1="191.96" x2="242.90" y2="191.96" stroke="#777" stroke-width="0.7" stroke-linecap="butt"/>
<circle cx="240.15" cy="184.62" r="1.6" fill="#000" stroke="#000" stroke-width="0.3"/>
<circle cx="236.39" cy="191.49" r="1.6" fill="#000" stroke="#000" stroke-width="0.3"/>
<circle cx="240.15" cy="193.61" r="1.6" fill="#000" stroke="#000" stroke-width="0.3"/>
<circle cx="244.24" cy="193.94" r="1.6" fill="#000" stroke="#000" stroke-width="0.3"/>
<circle cx="237.70" cy="195.57" r="1.6" fill="#000" stroke="#000" stroke-width="0.3"/>
<circle cx="241.79" cy="195.25" r="1.6" fill="#000" stroke="#000" stroke-width="0.3"/>
<rect x="261.50" y="177.79" width="11.00" height="55.71" fill="#fff" stroke="#222" stroke-width="0.85"/>
<line x1="266.60" y1="175.84" x2="266.60" y2="179.75" stroke="#777" stroke-width="0.7" stroke-linecap="butt"/>
<line x1="264.10" y1="175.84" x2="269.10" y2="175.84" stroke="#777" stroke-width="0.7" stroke-linecap="butt"/>
<line x1="264.10" y1="179.75" x2="269.10" y2="179.75" stroke="#777" stroke-width="0.7" stroke-linecap="butt"/>
<circle cx="270.06" cy="169.91" r="1.55" fill="#fff" stroke="#000" stroke-width="0.9"/>
<circle cx="262.71" cy="172.69" r="1.55" fill="#fff" stroke="#000" stroke-width="0.9"/>
<circle cx="270.06" cy="172.69" r="1.55" fill="#fff" stroke="#000" stroke-width="0.9"/>
<circle cx="262.71" cy="179.56" r="1.55" fill="#fff" stroke="#000" stroke-width="0.9"/>
<circle cx="270.06" cy="177.92" r="1.55" fill="#fff" stroke="#000" stroke-width="0.9"/>
<circle cx="266.30" cy="179.23" r="1.55" fill="#fff" stroke="#000" stroke-width="0.9"/>
<circle cx="270.06" cy="180.86" r="1.55" fill="#fff" stroke="#000" stroke-width="0.9"/>
<circle cx="266.30" cy="187.89" r="1.55" fill="#fff" stroke="#000" stroke-width="0.9"/>
<rect x="276.50" y="174.86" width="11.00" height="58.64" fill="#8c8c8c" stroke="#222" stroke-width="0.85"/>
<line x1="282.25" y1="172.91" x2="282.25" y2="174.86" stroke="#777" stroke-width="0.7" stroke-linecap="butt"/>
<line x1="279.75" y1="172.91" x2="284.75" y2="172.91" stroke="#777" stroke-width="0.7" stroke-linecap="butt"/>
<circle cx="282.16" cy="164.19" r="1.6" fill="#000" stroke="#000" stroke-width="0.3"/>
<circle cx="285.92" cy="170.57" r="1.6" fill="#000" stroke="#000" stroke-width="0.3"/>
<circle cx="278.56" cy="174.32" r="1.6" fill="#000" stroke="#000" stroke-width="0.3"/>
<circle cx="282.16" cy="173.51" r="1.6" fill="#000" stroke="#000" stroke-width="0.3"/>
<circle cx="285.92" cy="175.14" r="1.6" fill="#000" stroke="#000" stroke-width="0.3"/>
<circle cx="282.16" cy="178.41" r="1.6" fill="#000" stroke="#000" stroke-width="0.3"/>
<circle cx="282.16" cy="184.95" r="1.6" fill="#000" stroke="#000" stroke-width="0.3"/>
<line x1="213.50" y1="159.75" x2="213.50" y2="233.95" stroke="#151515" stroke-width="0.9" stroke-linecap="butt"/>
<line x1="213.05" y1="233.50" x2="293.00" y2="233.50" stroke="#151515" stroke-width="0.9" stroke-linecap="butt"/>
<line x1="211.10" y1="233.50" x2="213.50" y2="233.50" stroke="#151515" stroke-width="0.9" stroke-linecap="butt"/>
<text x="210.50" y="236.74" font-size="9.4" text-anchor="end" font-weight="bold" fill="#000">0</text>
<line x1="211.10" y1="209.07" x2="213.50" y2="209.07" stroke="#151515" stroke-width="0.9" stroke-linecap="butt"/>
<text x="210.50" y="212.31" font-size="9.4" text-anchor="end" font-weight="bold" fill="#000">5</text>
<line x1="211.10" y1="184.63" x2="213.50" y2="184.63" stroke="#151515" stroke-width="0.9" stroke-linecap="butt"/>
<text x="210.50" y="187.88" font-size="9.4" text-anchor="end" font-weight="bold" fill="#000">10</text>
<line x1="211.10" y1="160.20" x2="213.50" y2="160.20" stroke="#151515" stroke-width="0.9" stroke-linecap="butt"/>
<text x="210.50" y="163.44" font-size="9.4" text-anchor="end" font-weight="bold" fill="#000">15</text>
<line x1="232.50" y1="233.50" x2="232.50" y2="235.70" stroke="#151515" stroke-width="0.9" stroke-linecap="butt"/>
<text x="232.50" y="245.64" font-size="9.1" text-anchor="middle" font-weight="bold" fill="#000">Chow diet</text>
<line x1="274.30" y1="233.50" x2="274.30" y2="235.70" stroke="#151515" stroke-width="0.9" stroke-linecap="butt"/>
<text x="274.30" y="245.64" font-size="9.1" text-anchor="middle" font-weight="bold" fill="#000">HFD</text>
<text font-size="9.6" text-anchor="middle" font-weight="bold" transform="translate(183.61 193.00) rotate(-90)">Energy Intake</text>
<text font-size="9.6" text-anchor="middle" font-weight="bold" transform="translate(196.51 193.00) rotate(-90)">(Kcal/day)</text>
<circle cx="289.70" cy="147.30" r="1.7" fill="#fff" stroke="#000" stroke-width="0.75"/>
<circle cx="289.70" cy="158.50" r="1.55" fill="#000" stroke="#000" stroke-width="0.3"/>
<text x="296.50" y="150.27" font-size="8.6" text-anchor="start" font-weight="bold" fill="#000">Floxed</text>
<text x="296.50" y="161.47" font-size="8.6" text-anchor="start" font-weight="bold" fill="#000">E-CIDECtg</text>
<line x1="240.00" y1="154.50" x2="282.50" y2="154.50" stroke="#3a3a3a" stroke-width="0.8" stroke-linecap="butt"/>
<line x1="240.00" y1="152.20" x2="240.00" y2="156.80" stroke="#3a3a3a" stroke-width="0.8" stroke-linecap="butt"/>
<line x1="282.50" y1="152.20" x2="282.50" y2="156.80" stroke="#3a3a3a" stroke-width="0.8" stroke-linecap="butt"/>
<text x="261.25" y="155.69" font-size="8.6" text-anchor="middle" font-weight="bold" fill="#222">****</text>
<line x1="224.50" y1="164.50" x2="266.80" y2="164.50" stroke="#3a3a3a" stroke-width="0.8" stroke-linecap="butt"/>
<line x1="224.50" y1="162.20" x2="224.50" y2="166.80" stroke="#3a3a3a" stroke-width="0.8" stroke-linecap="butt"/>
<line x1="266.80" y1="162.20" x2="266.80" y2="166.80" stroke="#3a3a3a" stroke-width="0.8" stroke-linecap="butt"/>
<text x="245.65" y="166.19" font-size="8.6" text-anchor="middle" font-weight="bold" fill="#222">****</text>
<rect x="396.50" y="190.08" width="12.00" height="36.92" fill="#fff" stroke="#222" stroke-width="0.85"/>
<line x1="402.15" y1="188.99" x2="402.15" y2="191.16" stroke="#777" stroke-width="0.7" stroke-linecap="butt"/>
<line x1="399.65" y1="188.99" x2="404.65" y2="188.99" stroke="#777" stroke-width="0.7" stroke-linecap="butt"/>
<line x1="399.65" y1="191.16" x2="404.65" y2="191.16" stroke="#777" stroke-width="0.7" stroke-linecap="butt"/>
<circle cx="401.77" cy="181.68" r="1.3" fill="#fff" stroke="#000" stroke-width="0.9"/>
<circle cx="400.13" cy="184.46" r="1.3" fill="#fff" stroke="#000" stroke-width="0.9"/>
<circle cx="403.89" cy="184.46" r="1.3" fill="#fff" stroke="#000" stroke-width="0.9"/>
<circle cx="401.77" cy="186.58" r="1.3" fill="#fff" stroke="#000" stroke-width="0.9"/>
<circle cx="398.17" cy="191.49" r="1.3" fill="#fff" stroke="#000" stroke-width="0.9"/>
<circle cx="401.77" cy="190.67" r="1.3" fill="#fff" stroke="#000" stroke-width="0.9"/>
<circle cx="405.53" cy="191.49" r="1.3" fill="#fff" stroke="#000" stroke-width="0.9"/>
<circle cx="397.36" cy="193.94" r="1.3" fill="#fff" stroke="#000" stroke-width="0.9"/>
<circle cx="400.13" cy="193.94" r="1.3" fill="#fff" stroke="#000" stroke-width="0.9"/>
<circle cx="403.08" cy="193.94" r="1.3" fill="#fff" stroke="#000" stroke-width="0.9"/>
<circle cx="406.02" cy="194.27" r="1.3" fill="#fff" stroke="#000" stroke-width="0.9"/>
<circle cx="401.77" cy="195.25" r="1.3" fill="#fff" stroke="#000" stroke-width="0.9"/>
<rect x="412.50" y="196.59" width="12.00" height="30.41" fill="#8c8c8c" stroke="#222" stroke-width="0.85"/>
<line x1="418.75" y1="195.51" x2="418.75" y2="196.59" stroke="#777" stroke-width="0.7" stroke-linecap="butt"/>
<line x1="416.25" y1="195.51" x2="421.25" y2="195.51" stroke="#777" stroke-width="0.7" stroke-linecap="butt"/>
<circle cx="419.09" cy="188.71" r="1.35" fill="#000" stroke="#000" stroke-width="0.3"/>
<circle cx="414.52" cy="193.61" r="1.35" fill="#000" stroke="#000" stroke-width="0.3"/>
<circle cx="416.97" cy="194.76" r="1.35" fill="#000" stroke="#000" stroke-width="0.3"/>
<circle cx="421.06" cy="196.39" r="1.35" fill="#000" stroke="#000" stroke-width="0.3"/>
<circle cx="423.51" cy="197.21" r="1.35" fill="#000" stroke="#000" stroke-width="0.3"/>
<circle cx="415.34" cy="197.21" r="1.35" fill="#000" stroke="#000" stroke-width="0.3"/>
<circle cx="418.60" cy="198.52" r="1.35" fill="#000" stroke="#000" stroke-width="0.3"/>
<circle cx="419.09" cy="201.29" r="1.35" fill="#000" stroke="#000" stroke-width="0.3"/>
<circle cx="419.09" cy="203.42" r="1.35" fill="#000" stroke="#000" stroke-width="0.3"/>
<circle cx="421.06" cy="199.17" r="1.35" fill="#000" stroke="#000" stroke-width="0.3"/>
<rect x="442.50" y="176.32" width="11.00" height="50.68" fill="#fff" stroke="#222" stroke-width="0.85"/>
<line x1="448.15" y1="175.23" x2="448.15" y2="177.41" stroke="#777" stroke-width="0.7" stroke-linecap="butt"/>
<line x1="445.65" y1="175.23" x2="450.65" y2="175.23" stroke="#777" stroke-width="0.7" stroke-linecap="butt"/>
<line x1="445.65" y1="177.41" x2="450.65" y2="177.41" stroke="#777" stroke-width="0.7" stroke-linecap="butt"/>
<circle cx="446.39" cy="171.06" r="1.3" fill="#fff" stroke="#000" stroke-width="0.9"/>
<circle cx="449.17" cy="171.06" r="1.3" fill="#fff" stroke="#000" stroke-width="0.9"/>
<circle cx="452.11" cy="171.06" r="1.3" fill="#fff" stroke="#000" stroke-width="0.9"/>
<circle cx="443.94" cy="173.51" r="1.3" fill="#fff" stroke="#000" stroke-width="0.9"/>
<circle cx="447.21" cy="173.51" r="1.3" fill="#fff" stroke="#000" stroke-width="0.9"/>
<circle cx="450.15" cy="172.69" r="1.3" fill="#fff" stroke="#000" stroke-width="0.9"/>
<circle cx="445.57" cy="175.63" r="1.3" fill="#fff" stroke="#000" stroke-width="0.9"/>
<circle cx="448.84" cy="176.78" r="1.3" fill="#fff" stroke="#000" stroke-width="0.9"/>
<circle cx="447.21" cy="179.23" r="1.3" fill="#fff" stroke="#000" stroke-width="0.9"/>
<circle cx="449.17" cy="180.05" r="1.3" fill="#fff" stroke="#000" stroke-width="0.9"/>
<circle cx="448.03" cy="182.82" r="1.3" fill="#fff" stroke="#000" stroke-width="0.9"/>
<circle cx="446.88" cy="184.95" r="1.3" fill="#fff" stroke="#000" stroke-width="0.9"/>
<rect x="459.50" y="186.09" width="11.00" height="40.91" fill="#8c8c8c" stroke="#222" stroke-width="0.85"/>
<line x1="464.90" y1="184.65" x2="464.90" y2="186.09" stroke="#777" stroke-width="0.7" stroke-linecap="butt"/>
<line x1="462.40" y1="184.65" x2="467.40" y2="184.65" stroke="#777" stroke-width="0.7" stroke-linecap="butt"/>
<circle cx="465.19" cy="170.73" r="1.35" fill="#000" stroke="#000" stroke-width="0.3"/>
<circle cx="466.01" cy="180.54" r="1.35" fill="#000" stroke="#000" stroke-width="0.3"/>
<circle cx="463.55" cy="182.17" r="1.35" fill="#000" stroke="#000" stroke-width="0.3"/>
<circle cx="461.92" cy="186.58" r="1.35" fill="#000" stroke="#000" stroke-width="0.3"/>
<circle cx="465.19" cy="186.58" r="1.35" fill="#000" stroke="#000" stroke-width="0.3"/>
<circle cx="469.27" cy="187.07" r="1.35" fill="#000" stroke="#000" stroke-width="0.3"/>
<circle cx="463.55" cy="189.04" r="1.35" fill="#000" stroke="#000" stroke-width="0.3"/>
<circle cx="466.82" cy="189.04" r="1.35" fill="#000" stroke="#000" stroke-width="0.3"/>
<circle cx="464.37" cy="192.30" r="1.35" fill="#000" stroke="#000" stroke-width="0.3"/>
<circle cx="466.01" cy="193.12" r="1.35" fill="#000" stroke="#000" stroke-width="0.3"/>
<circle cx="463.55" cy="190.67" r="1.35" fill="#000" stroke="#000" stroke-width="0.3"/>
<line x1="390.50" y1="154.15" x2="390.50" y2="227.45" stroke="#151515" stroke-width="0.9" stroke-linecap="butt"/>
<line x1="390.05" y1="227.00" x2="476.70" y2="227.00" stroke="#151515" stroke-width="0.9" stroke-linecap="butt"/>
<line x1="388.10" y1="227.00" x2="390.50" y2="227.00" stroke="#151515" stroke-width="0.9" stroke-linecap="butt"/>
<text x="387.50" y="229.86" font-size="8.3" text-anchor="end" font-weight="bold" fill="#000">0</text>
<line x1="388.10" y1="208.90" x2="390.50" y2="208.90" stroke="#151515" stroke-width="0.9" stroke-linecap="butt"/>
<text x="387.50" y="211.76" font-size="8.3" text-anchor="end" font-weight="bold" fill="#000">50</text>
<line x1="388.10" y1="190.80" x2="390.50" y2="190.80" stroke="#151515" stroke-width="0.9" stroke-linecap="butt"/>
<text x="387.50" y="193.66" font-size="8.3" text-anchor="end" font-weight="bold" fill="#000">100</text>
<line x1="388.10" y1="172.70" x2="390.50" y2="172.70" stroke="#151515" stroke-width="0.9" stroke-linecap="butt"/>
<text x="387.50" y="175.56" font-size="8.3" text-anchor="end" font-weight="bold" fill="#000">150</text>
<line x1="388.10" y1="154.60" x2="390.50" y2="154.60" stroke="#151515" stroke-width="0.9" stroke-linecap="butt"/>
<text x="387.50" y="157.46" font-size="8.3" text-anchor="end" font-weight="bold" fill="#000">200</text>
<line x1="410.80" y1="227.00" x2="410.80" y2="229.20" stroke="#151515" stroke-width="0.9" stroke-linecap="butt"/>
<text x="410.80" y="237.97" font-size="8.6" text-anchor="middle" font-weight="bold" fill="#000">Chow diet</text>
<line x1="456.30" y1="227.00" x2="456.30" y2="229.20" stroke="#151515" stroke-width="0.9" stroke-linecap="butt"/>
<text x="456.30" y="237.97" font-size="8.6" text-anchor="middle" font-weight="bold" fill="#000">HFD</text>
<text font-size="9.8" text-anchor="middle" font-weight="bold" transform="translate(368.28 186.00) rotate(-90)">Glucose mg/dL</text>
<circle cx="470.90" cy="146.90" r="1.45" fill="#fff" stroke="#000" stroke-width="0.75"/>
<circle cx="470.90" cy="159.10" r="1.3" fill="#000" stroke="#000" stroke-width="0.3"/>
<text x="477.40" y="149.82" font-size="8.45" text-anchor="start" font-weight="bold" fill="#000">Floxed</text>
<text x="477.40" y="162.02" font-size="8.45" text-anchor="start" font-weight="bold" fill="#000">E-CIDECtg</text>
<polyline points="419.00,151.30 419.00,148.00 465.50,148.00 465.50,151.30" fill="none" stroke="#000" stroke-width="1.1" stroke-linejoin="miter"/>
<text x="442.50" y="148.81" font-size="10.6" text-anchor="middle" font-weight="bold" fill="#000" letter-spacing="1.0">**</text>
<polyline points="401.50,178.20 401.50,164.30 447.40,164.30 447.40,167.80" fill="none" stroke="#000" stroke-width="1.1" stroke-linejoin="miter"/>
<text x="424.30" y="165.01" font-size="10.6" text-anchor="middle" font-weight="bold" fill="#000" letter-spacing="1.0">****</text>
<polyline points="449.30,167.80 449.30,164.30 465.50,164.30 465.50,167.80" fill="none" stroke="#000" stroke-width="1.1" stroke-linejoin="miter"/>
<text x="457.70" y="165.01" font-size="10.6" text-anchor="middle" font-weight="bold" fill="#000" letter-spacing="1.0">**</text>
<rect x="204.50" y="356.70" width="10.00" height="31.80" fill="#fff" stroke="#222" stroke-width="0.85"/>
<line x1="209.65" y1="355.85" x2="209.65" y2="357.55" stroke="#777" stroke-width="0.7" stroke-linecap="butt"/>
<line x1="207.15" y1="355.85" x2="212.15" y2="355.85" stroke="#777" stroke-width="0.7" stroke-linecap="butt"/>
<line x1="207.15" y1="357.55" x2="212.15" y2="357.55" stroke="#777" stroke-width="0.7" stroke-linecap="butt"/>
<circle cx="211.26" cy="351.68" r="1.3" fill="#fff" stroke="#000" stroke-width="0.9"/>
<circle cx="213.38" cy="352.82" r="1.3" fill="#fff" stroke="#000" stroke-width="0.9"/>
<circle cx="205.54" cy="353.81" r="1.3" fill="#fff" stroke="#000" stroke-width="0.9"/>
<circle cx="208.81" cy="354.46" r="1.3" fill="#fff" stroke="#000" stroke-width="0.9"/>
<circle cx="206.85" cy="356.09" r="1.3" fill="#fff" stroke="#000" stroke-width="0.9"/>
<circle cx="210.11" cy="356.58" r="1.3" fill="#fff" stroke="#000" stroke-width="0.9"/>
<circle cx="212.89" cy="355.44" r="1.3" fill="#fff" stroke="#000" stroke-width="0.9"/>
<circle cx="207.99" cy="357.73" r="1.3" fill="#fff" stroke="#000" stroke-width="0.9"/>
<circle cx="211.26" cy="357.73" r="1.3" fill="#fff" stroke="#000" stroke-width="0.9"/>
<circle cx="206.36" cy="359.85" r="1.3" fill="#fff" stroke="#000" stroke-width="0.9"/>
<circle cx="209.62" cy="359.04" r="1.3" fill="#fff" stroke="#000" stroke-width="0.9"/>
<circle cx="212.08" cy="358.71" r="1.3" fill="#fff" stroke="#000" stroke-width="0.9"/>
<rect x="220.50" y="363.80" width="11.00" height="24.70" fill="#8c8c8c" stroke="#222" stroke-width="0.85"/>
<line x1="226.25" y1="362.85" x2="226.25" y2="363.80" stroke="#777" stroke-width="0.7" stroke-linecap="butt"/>
<line x1="223.75" y1="362.85" x2="228.75" y2="362.85" stroke="#777" stroke-width="0.7" stroke-linecap="butt"/>
<circle cx="222.70" cy="357.40" r="1.35" fill="#000" stroke="#000" stroke-width="0.3"/>
<circle cx="230.06" cy="359.04" r="1.35" fill="#000" stroke="#000" stroke-width="0.3"/>
<circle cx="225.97" cy="361.00" r="1.35" fill="#000" stroke="#000" stroke-width="0.3"/>
<circle cx="221.88" cy="362.63" r="1.35" fill="#000" stroke="#000" stroke-width="0.3"/>
<circle cx="228.09" cy="362.63" r="1.35" fill="#000" stroke="#000" stroke-width="0.3"/>
<circle cx="224.34" cy="364.76" r="1.35" fill="#000" stroke="#000" stroke-width="0.3"/>
<circle cx="230.06" cy="364.76" r="1.35" fill="#000" stroke="#000" stroke-width="0.3"/>
<circle cx="222.70" cy="367.21" r="1.35" fill="#000" stroke="#000" stroke-width="0.3"/>
<circle cx="226.46" cy="366.88" r="1.35" fill="#000" stroke="#000" stroke-width="0.3"/>
<circle cx="230.06" cy="367.54" r="1.35" fill="#000" stroke="#000" stroke-width="0.3"/>
<circle cx="225.97" cy="363.94" r="1.35" fill="#000" stroke="#000" stroke-width="0.3"/>
<rect x="248.50" y="342.92" width="11.00" height="45.58" fill="#fff" stroke="#222" stroke-width="0.85"/>
<line x1="254.15" y1="340.59" x2="254.15" y2="345.25" stroke="#777" stroke-width="0.7" stroke-linecap="butt"/>
<line x1="251.65" y1="340.59" x2="256.65" y2="340.59" stroke="#777" stroke-width="0.7" stroke-linecap="butt"/>
<line x1="251.65" y1="345.25" x2="256.65" y2="345.25" stroke="#777" stroke-width="0.7" stroke-linecap="butt"/>
<circle cx="253.76" cy="321.11" r="1.3" fill="#fff" stroke="#000" stroke-width="0.9"/>
<circle cx="257.84" cy="337.79" r="1.3" fill="#fff" stroke="#000" stroke-width="0.9"/>
<circle cx="250.00" cy="339.75" r="1.3" fill="#fff" stroke="#000" stroke-width="0.9"/>
<circle cx="254.08" cy="340.24" r="1.3" fill="#fff" stroke="#000" stroke-width="0.9"/>
<circle cx="257.84" cy="342.69" r="1.3" fill="#fff" stroke="#000" stroke-width="0.9"/>
<circle cx="250.49" cy="344.32" r="1.3" fill="#fff" stroke="#000" stroke-width="0.9"/>
<circle cx="254.57" cy="345.14" r="1.3" fill="#fff" stroke="#000" stroke-width="0.9"/>
<circle cx="258.66" cy="345.14" r="1.3" fill="#fff" stroke="#000" stroke-width="0.9"/>
<circle cx="253.76" cy="347.92" r="1.3" fill="#fff" stroke="#000" stroke-width="0.9"/>
<circle cx="257.52" cy="347.59" r="1.3" fill="#fff" stroke="#000" stroke-width="0.9"/>
<circle cx="255.88" cy="353.31" r="1.3" fill="#fff" stroke="#000" stroke-width="0.9"/>
<circle cx="251.63" cy="356.09" r="1.3" fill="#fff" stroke="#000" stroke-width="0.9"/>
<rect x="265.50" y="355.64" width="11.00" height="32.86" fill="#8c8c8c" stroke="#222" stroke-width="0.85"/>
<line x1="271.30" y1="354.58" x2="271.30" y2="355.64" stroke="#777" stroke-width="0.7" stroke-linecap="butt"/>
<line x1="268.80" y1="354.58" x2="273.80" y2="354.58" stroke="#777" stroke-width="0.7" stroke-linecap="butt"/>
<circle cx="270.92" cy="350.05" r="1.35" fill="#000" stroke="#000" stroke-width="0.3"/>
<circle cx="275.01" cy="350.86" r="1.35" fill="#000" stroke="#000" stroke-width="0.3"/>
<circle cx="266.83" cy="352.82" r="1.35" fill="#000" stroke="#000" stroke-width="0.3"/>
<circle cx="270.92" cy="353.31" r="1.35" fill="#000" stroke="#000" stroke-width="0.3"/>
<circle cx="273.37" cy="354.46" r="1.35" fill="#000" stroke="#000" stroke-width="0.3"/>
<circle cx="269.28" cy="355.77" r="1.35" fill="#000" stroke="#000" stroke-width="0.3"/>
<circle cx="272.55" cy="356.58" r="1.35" fill="#000" stroke="#000" stroke-width="0.3"/>
<circle cx="269.28" cy="359.04" r="1.35" fill="#000" stroke="#000" stroke-width="0.3"/>
<circle cx="273.37" cy="359.36" r="1.35" fill="#000" stroke="#000" stroke-width="0.3"/>
<circle cx="270.92" cy="360.67" r="1.35" fill="#000" stroke="#000" stroke-width="0.3"/>
<circle cx="268.47" cy="362.63" r="1.35" fill="#000" stroke="#000" stroke-width="0.3"/>
<line x1="198.50" y1="303.25" x2="198.50" y2="388.95" stroke="#151515" stroke-width="0.9" stroke-linecap="butt"/>
<line x1="198.05" y1="388.50" x2="282.00" y2="388.50" stroke="#151515" stroke-width="0.9" stroke-linecap="butt"/>
<line x1="196.10" y1="388.50" x2="198.50" y2="388.50" stroke="#151515" stroke-width="0.9" stroke-linecap="butt"/>
<text x="195.50" y="391.12" font-size="7.6" text-anchor="end" font-weight="bold" fill="#000">0</text>
<line x1="196.10" y1="367.30" x2="198.50" y2="367.30" stroke="#151515" stroke-width="0.9" stroke-linecap="butt"/>
<text x="195.50" y="369.92" font-size="7.6" text-anchor="end" font-weight="bold" fill="#000">20</text>
<line x1="196.10" y1="346.10" x2="198.50" y2="346.10" stroke="#151515" stroke-width="0.9" stroke-linecap="butt"/>
<text x="195.50" y="348.72" font-size="7.6" text-anchor="end" font-weight="bold" fill="#000">40</text>
<line x1="196.10" y1="324.90" x2="198.50" y2="324.90" stroke="#151515" stroke-width="0.9" stroke-linecap="butt"/>
<text x="195.50" y="327.52" font-size="7.6" text-anchor="end" font-weight="bold" fill="#000">60</text>
<line x1="196.10" y1="303.70" x2="198.50" y2="303.70" stroke="#151515" stroke-width="0.9" stroke-linecap="butt"/>
<text x="195.50" y="306.32" font-size="7.6" text-anchor="end" font-weight="bold" fill="#000">80</text>
<line x1="217.50" y1="388.50" x2="217.50" y2="390.70" stroke="#151515" stroke-width="0.9" stroke-linecap="butt"/>
<text x="217.50" y="398.56" font-size="8" text-anchor="middle" font-weight="bold" fill="#000">Chow diet</text>
<line x1="261.30" y1="388.50" x2="261.30" y2="390.70" stroke="#151515" stroke-width="0.9" stroke-linecap="butt"/>
<text x="261.30" y="398.56" font-size="8" text-anchor="middle" font-weight="bold" fill="#000">HFD</text>
<text font-size="7.7" text-anchor="middle" font-weight="bold" transform="translate(182.46 343.50) rotate(-90)">AUC (X 10<tspan font-size="5" dy="-3">3</tspan><tspan dy="3">)</tspan></text>
<circle cx="276.80" cy="315.30" r="1.45" fill="#fff" stroke="#000" stroke-width="0.75"/>
<circle cx="276.80" cy="326.50" r="1.3" fill="#000" stroke="#000" stroke-width="0.3"/>
<text x="281.80" y="318.09" font-size="8.1" text-anchor="start" font-weight="bold" fill="#000">Floxed</text>
<text x="281.80" y="329.29" font-size="8.1" text-anchor="start" font-weight="bold" fill="#000">E-hCIDECtg</text>
<polyline points="225.80,289.00 225.80,286.20 270.60,286.20 270.60,303.00" fill="none" stroke="#000" stroke-width="1.1" stroke-linejoin="miter"/>
<text x="249.20" y="287.01" font-size="10.6" text-anchor="middle" font-weight="bold" fill="#000" letter-spacing="1.0">*</text>
<polyline points="209.20,311.30 209.20,300.40 254.20,300.40 254.20,302.80" fill="none" stroke="#000" stroke-width="1.1" stroke-linejoin="miter"/>
<text x="232.80" y="301.21" font-size="10.6" text-anchor="middle" font-weight="bold" fill="#000" letter-spacing="1.0">****</text>
<polyline points="209.20,348.50 209.20,314.80 226.20,314.80 226.20,353.70" fill="none" stroke="#000" stroke-width="1.1" stroke-linejoin="miter"/>
<text x="218.50" y="315.01" font-size="10.6" text-anchor="middle" font-weight="bold" fill="#000" letter-spacing="1.0">*</text>
<polyline points="253.80,317.40 253.80,314.80 270.60,314.80 270.60,346.80" fill="none" stroke="#000" stroke-width="1.1" stroke-linejoin="miter"/>
<text x="263.10" y="315.01" font-size="10.6" text-anchor="middle" font-weight="bold" fill="#000" letter-spacing="1.0">***</text>
<rect x="383.50" y="355.63" width="11.00" height="21.37" fill="#fff" stroke="#222" stroke-width="0.85"/>
<line x1="389.10" y1="354.75" x2="389.10" y2="356.50" stroke="#777" stroke-width="0.7" stroke-linecap="butt"/>
<line x1="386.60" y1="354.75" x2="391.60" y2="354.75" stroke="#777" stroke-width="0.7" stroke-linecap="butt"/>
<line x1="386.60" y1="356.50" x2="391.60" y2="356.50" stroke="#777" stroke-width="0.7" stroke-linecap="butt"/>
<circle cx="389.44" cy="351.49" r="1.3" fill="#fff" stroke="#000" stroke-width="0.9"/>
<circle cx="385.36" cy="353.12" r="1.3" fill="#fff" stroke="#000" stroke-width="0.9"/>
<circle cx="391.89" cy="352.63" r="1.3" fill="#fff" stroke="#000" stroke-width="0.9"/>
<circle cx="384.54" cy="355.57" r="1.3" fill="#fff" stroke="#000" stroke-width="0.9"/>
<circle cx="388.13" cy="355.25" r="1.3" fill="#fff" stroke="#000" stroke-width="0.9"/>
<circle cx="393.53" cy="354.76" r="1.3" fill="#fff" stroke="#000" stroke-width="0.9"/>
<circle cx="386.17" cy="357.21" r="1.3" fill="#fff" stroke="#000" stroke-width="0.9"/>
<circle cx="390.26" cy="357.21" r="1.3" fill="#fff" stroke="#000" stroke-width="0.9"/>
<circle cx="391.89" cy="358.03" r="1.3" fill="#fff" stroke="#000" stroke-width="0.9"/>
<circle cx="387.81" cy="360.15" r="1.3" fill="#fff" stroke="#000" stroke-width="0.9"/>
<rect x="400.50" y="355.33" width="12.00" height="21.67" fill="#8c8c8c" stroke="#222" stroke-width="0.85"/>
<line x1="406.75" y1="354.31" x2="406.75" y2="355.33" stroke="#777" stroke-width="0.7" stroke-linecap="butt"/>
<line x1="404.25" y1="354.31" x2="409.25" y2="354.31" stroke="#777" stroke-width="0.7" stroke-linecap="butt"/>
<circle cx="402.52" cy="351.98" r="1.35" fill="#000" stroke="#000" stroke-width="0.3"/>
<circle cx="406.60" cy="352.63" r="1.35" fill="#000" stroke="#000" stroke-width="0.3"/>
<circle cx="410.36" cy="354.76" r="1.35" fill="#000" stroke="#000" stroke-width="0.3"/>
<circle cx="403.34" cy="354.76" r="1.35" fill="#000" stroke="#000" stroke-width="0.3"/>
<circle cx="407.42" cy="355.57" r="1.35" fill="#000" stroke="#000" stroke-width="0.3"/>
<circle cx="404.15" cy="357.21" r="1.35" fill="#000" stroke="#000" stroke-width="0.3"/>
<circle cx="406.60" cy="360.80" r="1.35" fill="#000" stroke="#000" stroke-width="0.3"/>
<circle cx="409.06" cy="360.80" r="1.35" fill="#000" stroke="#000" stroke-width="0.3"/>
<circle cx="410.69" cy="356.39" r="1.35" fill="#000" stroke="#000" stroke-width="0.3"/>
<rect x="430.50" y="327.52" width="11.00" height="49.48" fill="#fff" stroke="#222" stroke-width="0.85"/>
<line x1="436.10" y1="326.64" x2="436.10" y2="328.40" stroke="#777" stroke-width="0.7" stroke-linecap="butt"/>
<line x1="433.60" y1="326.64" x2="438.60" y2="326.64" stroke="#777" stroke-width="0.7" stroke-linecap="butt"/>
<line x1="433.60" y1="328.40" x2="438.60" y2="328.40" stroke="#777" stroke-width="0.7" stroke-linecap="butt"/>
<circle cx="435.54" cy="319.94" r="1.3" fill="#fff" stroke="#000" stroke-width="0.9"/>
<circle cx="436.03" cy="324.52" r="1.3" fill="#fff" stroke="#000" stroke-width="0.9"/>
<circle cx="439.78" cy="324.52" r="1.3" fill="#fff" stroke="#000" stroke-width="0.9"/>
<circle cx="431.94" cy="325.83" r="1.3" fill="#fff" stroke="#000" stroke-width="0.9"/>
<circle cx="435.21" cy="326.97" r="1.3" fill="#fff" stroke="#000" stroke-width="0.9"/>
<circle cx="439.29" cy="326.97" r="1.3" fill="#fff" stroke="#000" stroke-width="0.9"/>
<circle cx="431.94" cy="328.60" r="1.3" fill="#fff" stroke="#000" stroke-width="0.9"/>
<circle cx="436.03" cy="329.75" r="1.3" fill="#fff" stroke="#000" stroke-width="0.9"/>
<circle cx="439.29" cy="329.75" r="1.3" fill="#fff" stroke="#000" stroke-width="0.9"/>
<circle cx="432.27" cy="330.73" r="1.3" fill="#fff" stroke="#000" stroke-width="0.9"/>
<rect x="447.50" y="333.67" width="11.00" height="43.33" fill="#8c8c8c" stroke="#222" stroke-width="0.85"/>
<line x1="453.25" y1="331.91" x2="453.25" y2="333.67" stroke="#777" stroke-width="0.7" stroke-linecap="butt"/>
<line x1="450.75" y1="331.91" x2="455.75" y2="331.91" stroke="#777" stroke-width="0.7" stroke-linecap="butt"/>
<circle cx="453.19" cy="324.52" r="1.35" fill="#000" stroke="#000" stroke-width="0.3"/>
<circle cx="451.55" cy="328.11" r="1.35" fill="#000" stroke="#000" stroke-width="0.3"/>
<circle cx="455.64" cy="328.11" r="1.35" fill="#000" stroke="#000" stroke-width="0.3"/>
<circle cx="449.92" cy="335.14" r="1.35" fill="#000" stroke="#000" stroke-width="0.3"/>
<circle cx="453.19" cy="335.63" r="1.35" fill="#000" stroke="#000" stroke-width="0.3"/>
<circle cx="457.27" cy="335.14" r="1.35" fill="#000" stroke="#000" stroke-width="0.3"/>
<circle cx="449.10" cy="338.41" r="1.35" fill="#000" stroke="#000" stroke-width="0.3"/>
<circle cx="453.19" cy="339.23" r="1.35" fill="#000" stroke="#000" stroke-width="0.3"/>
<circle cx="457.27" cy="338.90" r="1.35" fill="#000" stroke="#000" stroke-width="0.3"/>
<line x1="377.50" y1="303.35" x2="377.50" y2="377.45" stroke="#151515" stroke-width="0.9" stroke-linecap="butt"/>
<line x1="377.05" y1="377.00" x2="465.40" y2="377.00" stroke="#151515" stroke-width="0.9" stroke-linecap="butt"/>
<line x1="375.10" y1="377.00" x2="377.50" y2="377.00" stroke="#151515" stroke-width="0.9" stroke-linecap="butt"/>
<text x="374.50" y="379.90" font-size="8.4" text-anchor="end" font-weight="bold" fill="#000">0.0</text>
<line x1="375.10" y1="362.36" x2="377.50" y2="362.36" stroke="#151515" stroke-width="0.9" stroke-linecap="butt"/>
<text x="374.50" y="365.26" font-size="8.4" text-anchor="end" font-weight="bold" fill="#000">0.1</text>
<line x1="375.10" y1="347.72" x2="377.50" y2="347.72" stroke="#151515" stroke-width="0.9" stroke-linecap="butt"/>
<text x="374.50" y="350.62" font-size="8.4" text-anchor="end" font-weight="bold" fill="#000">0.2</text>
<line x1="375.10" y1="333.08" x2="377.50" y2="333.08" stroke="#151515" stroke-width="0.9" stroke-linecap="butt"/>
<text x="374.50" y="335.98" font-size="8.4" text-anchor="end" font-weight="bold" fill="#000">0.3</text>
<line x1="375.10" y1="318.44" x2="377.50" y2="318.44" stroke="#151515" stroke-width="0.9" stroke-linecap="butt"/>
<text x="374.50" y="321.34" font-size="8.4" text-anchor="end" font-weight="bold" fill="#000">0.4</text>
<line x1="375.10" y1="303.80" x2="377.50" y2="303.80" stroke="#151515" stroke-width="0.9" stroke-linecap="butt"/>
<text x="374.50" y="306.70" font-size="8.4" text-anchor="end" font-weight="bold" fill="#000">0.5</text>
<line x1="398.00" y1="377.00" x2="398.00" y2="379.20" stroke="#151515" stroke-width="0.9" stroke-linecap="butt"/>
<text x="398.00" y="388.50" font-size="8.7" text-anchor="middle" font-weight="bold" fill="#000">Chow diet</text>
<line x1="444.30" y1="377.00" x2="444.30" y2="379.20" stroke="#151515" stroke-width="0.9" stroke-linecap="butt"/>
<text x="444.30" y="388.50" font-size="8.7" text-anchor="middle" font-weight="bold" fill="#000">HFD</text>
<text font-size="9.3" text-anchor="middle" font-weight="bold" transform="translate(357.91 336.00) rotate(-90)">Insulin ng/dL</text>
<circle cx="458.30" cy="302.40" r="1.45" fill="#fff" stroke="#000" stroke-width="0.75"/>
<circle cx="458.30" cy="315.00" r="1.3" fill="#000" stroke="#000" stroke-width="0.3"/>
<text x="465.00" y="305.26" font-size="8.3" text-anchor="start" font-weight="bold" fill="#000">Floxed</text>
<text x="465.00" y="317.86" font-size="8.3" text-anchor="start" font-weight="bold" fill="#000">E-CIDECtg</text>
<polyline points="406.80,298.00 406.80,295.00 453.30,295.00 453.30,310.00" fill="none" stroke="#000" stroke-width="1.1" stroke-linejoin="miter"/>
<text x="429.80" y="295.91" font-size="10.6" text-anchor="middle" font-weight="bold" fill="#000" letter-spacing="1.0">****</text>
<polyline points="389.20,347.60 389.20,312.90 435.30,312.90 435.30,316.00" fill="none" stroke="#000" stroke-width="1.1" stroke-linejoin="miter"/>
<text x="411.90" y="313.01" font-size="10.6" text-anchor="middle" font-weight="bold" fill="#000" letter-spacing="1.0">****</text>
<polyline points="437.10,316.00 437.10,312.90 453.30,312.90 453.30,320.50" fill="none" stroke="#000" stroke-width="1.1" stroke-linejoin="miter"/>
<text x="445.30" y="313.01" font-size="10.6" text-anchor="middle" font-weight="bold" fill="#000" letter-spacing="1.0">*</text>
<rect x="207.50" y="478.15" width="11.00" height="45.85" fill="#fff" stroke="#222" stroke-width="0.85"/>
<line x1="212.90" y1="476.05" x2="212.90" y2="480.25" stroke="#777" stroke-width="0.7" stroke-linecap="butt"/>
<line x1="210.40" y1="476.05" x2="215.40" y2="476.05" stroke="#777" stroke-width="0.7" stroke-linecap="butt"/>
<line x1="210.40" y1="480.25" x2="215.40" y2="480.25" stroke="#777" stroke-width="0.7" stroke-linecap="butt"/>
<circle cx="212.62" cy="463.70" r="1.3" fill="#fff" stroke="#000" stroke-width="0.9"/>
<circle cx="213.11" cy="466.97" r="1.3" fill="#fff" stroke="#000" stroke-width="0.9"/>
<circle cx="213.77" cy="471.87" r="1.3" fill="#fff" stroke="#000" stroke-width="0.9"/>
<circle cx="210.99" cy="474.32" r="1.3" fill="#fff" stroke="#000" stroke-width="0.9"/>
<circle cx="214.26" cy="475.14" r="1.3" fill="#fff" stroke="#000" stroke-width="0.9"/>
<circle cx="212.13" cy="477.92" r="1.3" fill="#fff" stroke="#000" stroke-width="0.9"/>
<circle cx="209.85" cy="481.68" r="1.3" fill="#fff" stroke="#000" stroke-width="0.9"/>
<circle cx="213.44" cy="480.86" r="1.3" fill="#fff" stroke="#000" stroke-width="0.9"/>
<circle cx="216.71" cy="482.17" r="1.3" fill="#fff" stroke="#000" stroke-width="0.9"/>
<circle cx="209.36" cy="483.81" r="1.3" fill="#fff" stroke="#000" stroke-width="0.9"/>
<circle cx="212.62" cy="484.13" r="1.3" fill="#fff" stroke="#000" stroke-width="0.9"/>
<circle cx="215.89" cy="484.95" r="1.3" fill="#fff" stroke="#000" stroke-width="0.9"/>
<circle cx="214.26" cy="487.40" r="1.3" fill="#fff" stroke="#000" stroke-width="0.9"/>
<circle cx="210.99" cy="489.36" r="1.3" fill="#fff" stroke="#000" stroke-width="0.9"/>
<rect x="224.50" y="483.40" width="10.00" height="40.60" fill="#8c8c8c" stroke="#222" stroke-width="0.85"/>
<line x1="229.65" y1="482.00" x2="229.65" y2="483.40" stroke="#777" stroke-width="0.7" stroke-linecap="butt"/>
<line x1="227.15" y1="482.00" x2="232.15" y2="482.00" stroke="#777" stroke-width="0.7" stroke-linecap="butt"/>
<circle cx="228.15" cy="476.78" r="1.35" fill="#000" stroke="#000" stroke-width="0.3"/>
<circle cx="231.09" cy="476.78" r="1.35" fill="#000" stroke="#000" stroke-width="0.3"/>
<circle cx="233.06" cy="482.17" r="1.35" fill="#000" stroke="#000" stroke-width="0.3"/>
<circle cx="225.70" cy="483.81" r="1.35" fill="#000" stroke="#000" stroke-width="0.3"/>
<circle cx="228.97" cy="484.13" r="1.35" fill="#000" stroke="#000" stroke-width="0.3"/>
<circle cx="231.42" cy="484.95" r="1.35" fill="#000" stroke="#000" stroke-width="0.3"/>
<circle cx="227.34" cy="487.40" r="1.35" fill="#000" stroke="#000" stroke-width="0.3"/>
<circle cx="232.24" cy="488.22" r="1.35" fill="#000" stroke="#000" stroke-width="0.3"/>
<circle cx="229.79" cy="490.67" r="1.35" fill="#000" stroke="#000" stroke-width="0.3"/>
<circle cx="228.97" cy="493.61" r="1.35" fill="#000" stroke="#000" stroke-width="0.3"/>
<rect x="251.50" y="476.40" width="11.00" height="47.60" fill="#fff" stroke="#222" stroke-width="0.85"/>
<line x1="256.65" y1="474.65" x2="256.65" y2="478.15" stroke="#777" stroke-width="0.7" stroke-linecap="butt"/>
<line x1="254.15" y1="474.65" x2="259.15" y2="474.65" stroke="#777" stroke-width="0.7" stroke-linecap="butt"/>
<line x1="254.15" y1="478.15" x2="259.15" y2="478.15" stroke="#777" stroke-width="0.7" stroke-linecap="butt"/>
<circle cx="256.43" cy="459.94" r="1.3" fill="#fff" stroke="#000" stroke-width="0.9"/>
<circle cx="258.39" cy="470.73" r="1.3" fill="#fff" stroke="#000" stroke-width="0.9"/>
<circle cx="252.67" cy="472.69" r="1.3" fill="#fff" stroke="#000" stroke-width="0.9"/>
<circle cx="255.94" cy="473.51" r="1.3" fill="#fff" stroke="#000" stroke-width="0.9"/>
<circle cx="260.03" cy="472.69" r="1.3" fill="#fff" stroke="#000" stroke-width="0.9"/>
<circle cx="253.49" cy="475.96" r="1.3" fill="#fff" stroke="#000" stroke-width="0.9"/>
<circle cx="257.57" cy="475.63" r="1.3" fill="#fff" stroke="#000" stroke-width="0.9"/>
<circle cx="260.84" cy="476.29" r="1.3" fill="#fff" stroke="#000" stroke-width="0.9"/>
<circle cx="254.30" cy="478.41" r="1.3" fill="#fff" stroke="#000" stroke-width="0.9"/>
<circle cx="258.39" cy="478.41" r="1.3" fill="#fff" stroke="#000" stroke-width="0.9"/>
<circle cx="256.43" cy="479.23" r="1.3" fill="#fff" stroke="#000" stroke-width="0.9"/>
<circle cx="256.43" cy="488.55" r="1.3" fill="#fff" stroke="#000" stroke-width="0.9"/>
<rect x="268.50" y="483.40" width="10.00" height="40.60" fill="#8c8c8c" stroke="#222" stroke-width="0.85"/>
<line x1="273.40" y1="481.65" x2="273.40" y2="483.40" stroke="#777" stroke-width="0.7" stroke-linecap="butt"/>
<line x1="270.90" y1="481.65" x2="275.90" y2="481.65" stroke="#777" stroke-width="0.7" stroke-linecap="butt"/>
<circle cx="272.61" cy="467.79" r="1.35" fill="#000" stroke="#000" stroke-width="0.3"/>
<circle cx="272.61" cy="477.59" r="1.35" fill="#000" stroke="#000" stroke-width="0.3"/>
<circle cx="269.02" cy="480.86" r="1.35" fill="#000" stroke="#000" stroke-width="0.3"/>
<circle cx="276.37" cy="480.54" r="1.35" fill="#000" stroke="#000" stroke-width="0.3"/>
<circle cx="270.65" cy="483.81" r="1.35" fill="#000" stroke="#000" stroke-width="0.3"/>
<circle cx="274.74" cy="483.81" r="1.35" fill="#000" stroke="#000" stroke-width="0.3"/>
<circle cx="269.02" cy="485.77" r="1.35" fill="#000" stroke="#000" stroke-width="0.3"/>
<circle cx="273.10" cy="486.58" r="1.35" fill="#000" stroke="#000" stroke-width="0.3"/>
<circle cx="276.37" cy="486.09" r="1.35" fill="#000" stroke="#000" stroke-width="0.3"/>
<circle cx="271.47" cy="489.04" r="1.35" fill="#000" stroke="#000" stroke-width="0.3"/>
<circle cx="274.74" cy="489.85" r="1.35" fill="#000" stroke="#000" stroke-width="0.3"/>
<circle cx="272.61" cy="493.94" r="1.35" fill="#000" stroke="#000" stroke-width="0.3"/>
<line x1="201.50" y1="453.55" x2="201.50" y2="524.45" stroke="#151515" stroke-width="0.9" stroke-linecap="butt"/>
<line x1="201.05" y1="524.00" x2="284.60" y2="524.00" stroke="#151515" stroke-width="0.9" stroke-linecap="butt"/>
<line x1="199.10" y1="524.00" x2="201.50" y2="524.00" stroke="#151515" stroke-width="0.9" stroke-linecap="butt"/>
<text x="198.50" y="526.83" font-size="8.2" text-anchor="end" font-weight="bold" fill="#000">0</text>
<line x1="199.10" y1="506.50" x2="201.50" y2="506.50" stroke="#151515" stroke-width="0.9" stroke-linecap="butt"/>
<text x="198.50" y="509.33" font-size="8.2" text-anchor="end" font-weight="bold" fill="#000">5</text>
<line x1="199.10" y1="489.00" x2="201.50" y2="489.00" stroke="#151515" stroke-width="0.9" stroke-linecap="butt"/>
<text x="198.50" y="491.83" font-size="8.2" text-anchor="end" font-weight="bold" fill="#000">10</text>
<line x1="199.10" y1="471.50" x2="201.50" y2="471.50" stroke="#151515" stroke-width="0.9" stroke-linecap="butt"/>
<text x="198.50" y="474.33" font-size="8.2" text-anchor="end" font-weight="bold" fill="#000">15</text>
<line x1="199.10" y1="454.00" x2="201.50" y2="454.00" stroke="#151515" stroke-width="0.9" stroke-linecap="butt"/>
<text x="198.50" y="456.83" font-size="8.2" text-anchor="end" font-weight="bold" fill="#000">20</text>
<line x1="221.30" y1="524.00" x2="221.30" y2="526.20" stroke="#151515" stroke-width="0.9" stroke-linecap="butt"/>
<text x="221.30" y="535.40" font-size="8.4" text-anchor="middle" font-weight="bold" fill="#000">Chow diet</text>
<line x1="264.50" y1="524.00" x2="264.50" y2="526.20" stroke="#151515" stroke-width="0.9" stroke-linecap="butt"/>
<text x="264.50" y="535.40" font-size="8.4" text-anchor="middle" font-weight="bold" fill="#000">HFD</text>
<text font-size="8.3" text-anchor="middle" font-weight="bold" transform="translate(185.56 485.50) rotate(-90)">AUC (X 10<tspan font-size="5.5" dy="-3">3</tspan><tspan dy="3">)</tspan></text>
<circle cx="279.00" cy="459.60" r="1.45" fill="#fff" stroke="#000" stroke-width="0.75"/>
<circle cx="279.00" cy="471.20" r="1.3" fill="#000" stroke="#000" stroke-width="0.3"/>
<text x="285.50" y="462.50" font-size="8.4" text-anchor="start" font-weight="bold" fill="#000">Floxed</text>
<text x="285.50" y="474.10" font-size="8.4" text-anchor="start" font-weight="bold" fill="#000">E-hCIDECtg</text>
<polyline points="229.10,473.50 229.10,453.30 255.70,453.30 255.70,456.30" fill="none" stroke="#000" stroke-width="1.1" stroke-linejoin="miter"/>
<text x="242.40" y="453.81" font-size="10.6" text-anchor="middle" font-weight="bold" fill="#000" letter-spacing="1.0">*</text>
<polyline points="257.60,456.30 257.60,453.30 272.80,453.30 272.80,463.70" fill="none" stroke="#000" stroke-width="1.1" stroke-linejoin="miter"/>
<text x="265.40" y="453.81" font-size="10.6" text-anchor="middle" font-weight="bold" fill="#000" letter-spacing="1.0">*</text>
<polyline points="26.20,368.08 37.20,329.10 48.19,318.00 59.19,321.07 70.18,329.83 114.16,355.53" fill="none" stroke="#222" stroke-width="0.75" stroke-linejoin="miter"/>
<line x1="26.20" y1="366.62" x2="26.20" y2="369.54" stroke="#555" stroke-width="0.7" stroke-linecap="butt"/>
<line x1="24.20" y1="366.62" x2="28.20" y2="366.62" stroke="#555" stroke-width="0.7" stroke-linecap="butt"/>
<line x1="24.20" y1="369.54" x2="28.20" y2="369.54" stroke="#555" stroke-width="0.7" stroke-linecap="butt"/>
<line x1="37.20" y1="326.47" x2="37.20" y2="331.73" stroke="#555" stroke-width="0.7" stroke-linecap="butt"/>
<line x1="35.20" y1="326.47" x2="39.20" y2="326.47" stroke="#555" stroke-width="0.7" stroke-linecap="butt"/>
<line x1="35.20" y1="331.73" x2="39.20" y2="331.73" stroke="#555" stroke-width="0.7" stroke-linecap="butt"/>
<line x1="48.19" y1="315.08" x2="48.19" y2="320.92" stroke="#555" stroke-width="0.7" stroke-linecap="butt"/>
<line x1="46.19" y1="315.08" x2="50.19" y2="315.08" stroke="#555" stroke-width="0.7" stroke-linecap="butt"/>
<line x1="46.19" y1="320.92" x2="50.19" y2="320.92" stroke="#555" stroke-width="0.7" stroke-linecap="butt"/>
<line x1="59.19" y1="318.15" x2="59.19" y2="323.99" stroke="#555" stroke-width="0.7" stroke-linecap="butt"/>
<line x1="57.19" y1="318.15" x2="61.19" y2="318.15" stroke="#555" stroke-width="0.7" stroke-linecap="butt"/>
<line x1="57.19" y1="323.99" x2="61.19" y2="323.99" stroke="#555" stroke-width="0.7" stroke-linecap="butt"/>
<line x1="70.18" y1="326.62" x2="70.18" y2="333.04" stroke="#555" stroke-width="0.7" stroke-linecap="butt"/>
<line x1="68.18" y1="326.62" x2="72.18" y2="326.62" stroke="#555" stroke-width="0.7" stroke-linecap="butt"/>
<line x1="68.18" y1="333.04" x2="72.18" y2="333.04" stroke="#555" stroke-width="0.7" stroke-linecap="butt"/>
<line x1="114.16" y1="352.90" x2="114.16" y2="358.15" stroke="#555" stroke-width="0.7" stroke-linecap="butt"/>
<line x1="112.16" y1="352.90" x2="116.16" y2="352.90" stroke="#555" stroke-width="0.7" stroke-linecap="butt"/>
<line x1="112.16" y1="358.15" x2="116.16" y2="358.15" stroke="#555" stroke-width="0.7" stroke-linecap="butt"/>
<polygon points="26.20,366.43 24.63,369.24 27.77,369.24" fill="#fff" stroke="#444" stroke-width="0.8"/>
<polygon points="37.20,327.45 35.63,330.25 38.76,330.25" fill="#fff" stroke="#444" stroke-width="0.8"/>
<polygon points="48.19,316.35 46.62,319.16 49.76,319.16" fill="#fff" stroke="#444" stroke-width="0.8"/>
<polygon points="59.19,319.42 57.62,322.22 60.75,322.22" fill="#fff" stroke="#444" stroke-width="0.8"/>
<polygon points="70.18,328.18 68.61,330.98 71.75,330.98" fill="#fff" stroke="#444" stroke-width="0.8"/>
<polygon points="114.16,353.88 112.59,356.68 115.73,356.68" fill="#fff" stroke="#444" stroke-width="0.8"/>
<polyline points="26.20,370.56 37.20,333.04 48.19,333.77 59.19,336.11 70.18,344.87 114.16,364.29" fill="none" stroke="#222" stroke-width="0.75" stroke-linejoin="miter"/>
<line x1="26.20" y1="369.40" x2="26.20" y2="371.73" stroke="#000" stroke-width="0.7" stroke-linecap="butt"/>
<line x1="24.20" y1="369.40" x2="28.20" y2="369.40" stroke="#000" stroke-width="0.7" stroke-linecap="butt"/>
<line x1="24.20" y1="371.73" x2="28.20" y2="371.73" stroke="#000" stroke-width="0.7" stroke-linecap="butt"/>
<line x1="37.20" y1="330.85" x2="37.20" y2="335.23" stroke="#000" stroke-width="0.7" stroke-linecap="butt"/>
<line x1="35.20" y1="330.85" x2="39.20" y2="330.85" stroke="#000" stroke-width="0.7" stroke-linecap="butt"/>
<line x1="35.20" y1="335.23" x2="39.20" y2="335.23" stroke="#000" stroke-width="0.7" stroke-linecap="butt"/>
<line x1="48.19" y1="332.02" x2="48.19" y2="335.52" stroke="#000" stroke-width="0.7" stroke-linecap="butt"/>
<line x1="46.19" y1="332.02" x2="50.19" y2="332.02" stroke="#000" stroke-width="0.7" stroke-linecap="butt"/>
<line x1="46.19" y1="335.52" x2="50.19" y2="335.52" stroke="#000" stroke-width="0.7" stroke-linecap="butt"/>
<line x1="59.19" y1="334.36" x2="59.19" y2="337.86" stroke="#000" stroke-width="0.7" stroke-linecap="butt"/>
<line x1="57.19" y1="334.36" x2="61.19" y2="334.36" stroke="#000" stroke-width="0.7" stroke-linecap="butt"/>
<line x1="57.19" y1="337.86" x2="61.19" y2="337.86" stroke="#000" stroke-width="0.7" stroke-linecap="butt"/>
<line x1="70.18" y1="343.12" x2="70.18" y2="346.62" stroke="#000" stroke-width="0.7" stroke-linecap="butt"/>
<line x1="68.18" y1="343.12" x2="72.18" y2="343.12" stroke="#000" stroke-width="0.7" stroke-linecap="butt"/>
<line x1="68.18" y1="346.62" x2="72.18" y2="346.62" stroke="#000" stroke-width="0.7" stroke-linecap="butt"/>
<line x1="114.16" y1="362.83" x2="114.16" y2="365.75" stroke="#000" stroke-width="0.7" stroke-linecap="butt"/>
<line x1="112.16" y1="362.83" x2="116.16" y2="362.83" stroke="#000" stroke-width="0.7" stroke-linecap="butt"/>
<line x1="112.16" y1="365.75" x2="116.16" y2="365.75" stroke="#000" stroke-width="0.7" stroke-linecap="butt"/>
<polygon points="26.20,372.46 24.39,369.23 28.00,369.23" fill="#000" stroke="#000" stroke-width="0.3"/>
<polygon points="37.20,334.94 35.39,331.71 39.00,331.71" fill="#000" stroke="#000" stroke-width="0.3"/>
<polygon points="48.19,335.67 46.38,332.44 49.99,332.44" fill="#000" stroke="#000" stroke-width="0.3"/>
<polygon points="59.19,338.01 57.38,334.78 60.99,334.78" fill="#000" stroke="#000" stroke-width="0.3"/>
<polygon points="70.18,346.77 68.37,343.54 71.98,343.54" fill="#000" stroke="#000" stroke-width="0.3"/>
<polygon points="114.16,366.19 112.35,362.96 115.97,362.96" fill="#000" stroke="#000" stroke-width="0.3"/>
<polyline points="26.20,375.53 37.20,344.28 48.19,345.60 59.19,352.31 70.18,359.32 114.16,371.29" fill="none" stroke="#222" stroke-width="0.75" stroke-linejoin="miter"/>
<line x1="26.20" y1="374.65" x2="26.20" y2="376.40" stroke="#000" stroke-width="0.7" stroke-linecap="butt"/>
<line x1="24.20" y1="374.65" x2="28.20" y2="374.65" stroke="#000" stroke-width="0.7" stroke-linecap="butt"/>
<line x1="24.20" y1="376.40" x2="28.20" y2="376.40" stroke="#000" stroke-width="0.7" stroke-linecap="butt"/>
<line x1="37.20" y1="342.09" x2="37.20" y2="346.47" stroke="#000" stroke-width="0.7" stroke-linecap="butt"/>
<line x1="35.20" y1="342.09" x2="39.20" y2="342.09" stroke="#000" stroke-width="0.7" stroke-linecap="butt"/>
<line x1="35.20" y1="346.47" x2="39.20" y2="346.47" stroke="#000" stroke-width="0.7" stroke-linecap="butt"/>
<line x1="48.19" y1="343.55" x2="48.19" y2="347.64" stroke="#000" stroke-width="0.7" stroke-linecap="butt"/>
<line x1="46.19" y1="343.55" x2="50.19" y2="343.55" stroke="#000" stroke-width="0.7" stroke-linecap="butt"/>
<line x1="46.19" y1="347.64" x2="50.19" y2="347.64" stroke="#000" stroke-width="0.7" stroke-linecap="butt"/>
<line x1="59.19" y1="350.27" x2="59.19" y2="354.36" stroke="#000" stroke-width="0.7" stroke-linecap="butt"/>
<line x1="57.19" y1="350.27" x2="61.19" y2="350.27" stroke="#000" stroke-width="0.7" stroke-linecap="butt"/>
<line x1="57.19" y1="354.36" x2="61.19" y2="354.36" stroke="#000" stroke-width="0.7" stroke-linecap="butt"/>
<line x1="70.18" y1="357.86" x2="70.18" y2="360.78" stroke="#000" stroke-width="0.7" stroke-linecap="butt"/>
<line x1="68.18" y1="357.86" x2="72.18" y2="357.86" stroke="#000" stroke-width="0.7" stroke-linecap="butt"/>
<line x1="68.18" y1="360.78" x2="72.18" y2="360.78" stroke="#000" stroke-width="0.7" stroke-linecap="butt"/>
<line x1="114.16" y1="370.13" x2="114.16" y2="372.46" stroke="#000" stroke-width="0.7" stroke-linecap="butt"/>
<line x1="112.16" y1="370.13" x2="116.16" y2="370.13" stroke="#000" stroke-width="0.7" stroke-linecap="butt"/>
<line x1="112.16" y1="372.46" x2="116.16" y2="372.46" stroke="#000" stroke-width="0.7" stroke-linecap="butt"/>
<circle cx="26.20" cy="375.53" r="2.0" fill="#000" stroke="#000" stroke-width="0.2"/>
<circle cx="37.20" cy="344.28" r="2.0" fill="#000" stroke="#000" stroke-width="0.2"/>
<circle cx="48.19" cy="345.60" r="2.0" fill="#000" stroke="#000" stroke-width="0.2"/>
<circle cx="59.19" cy="352.31" r="2.0" fill="#000" stroke="#000" stroke-width="0.2"/>
<circle cx="70.18" cy="359.32" r="2.0" fill="#000" stroke="#000" stroke-width="0.2"/>
<circle cx="114.16" cy="371.29" r="2.0" fill="#000" stroke="#000" stroke-width="0.2"/>
<polyline points="26.20,372.17 37.20,331.29 48.19,333.48 59.19,339.76 70.18,349.83 114.16,366.77" fill="none" stroke="#222" stroke-width="0.75" stroke-linejoin="miter"/>
<line x1="26.20" y1="371.29" x2="26.20" y2="373.05" stroke="#000" stroke-width="0.7" stroke-linecap="butt"/>
<line x1="24.20" y1="371.29" x2="28.20" y2="371.29" stroke="#000" stroke-width="0.7" stroke-linecap="butt"/>
<line x1="24.20" y1="373.05" x2="28.20" y2="373.05" stroke="#000" stroke-width="0.7" stroke-linecap="butt"/>
<line x1="37.20" y1="328.66" x2="37.20" y2="333.92" stroke="#000" stroke-width="0.7" stroke-linecap="butt"/>
<line x1="35.20" y1="328.66" x2="39.20" y2="328.66" stroke="#000" stroke-width="0.7" stroke-linecap="butt"/>
<line x1="35.20" y1="333.92" x2="39.20" y2="333.92" stroke="#000" stroke-width="0.7" stroke-linecap="butt"/>
<line x1="48.19" y1="331.29" x2="48.19" y2="335.67" stroke="#000" stroke-width="0.7" stroke-linecap="butt"/>
<line x1="46.19" y1="331.29" x2="50.19" y2="331.29" stroke="#000" stroke-width="0.7" stroke-linecap="butt"/>
<line x1="46.19" y1="335.67" x2="50.19" y2="335.67" stroke="#000" stroke-width="0.7" stroke-linecap="butt"/>
<line x1="59.19" y1="337.71" x2="59.19" y2="341.80" stroke="#000" stroke-width="0.7" stroke-linecap="butt"/>
<line x1="57.19" y1="337.71" x2="61.19" y2="337.71" stroke="#000" stroke-width="0.7" stroke-linecap="butt"/>
<line x1="57.19" y1="341.80" x2="61.19" y2="341.80" stroke="#000" stroke-width="0.7" stroke-linecap="butt"/>
<line x1="70.18" y1="348.08" x2="70.18" y2="351.58" stroke="#000" stroke-width="0.7" stroke-linecap="butt"/>
<line x1="68.18" y1="348.08" x2="72.18" y2="348.08" stroke="#000" stroke-width="0.7" stroke-linecap="butt"/>
<line x1="68.18" y1="351.58" x2="72.18" y2="351.58" stroke="#000" stroke-width="0.7" stroke-linecap="butt"/>
<line x1="114.16" y1="365.31" x2="114.16" y2="368.23" stroke="#000" stroke-width="0.7" stroke-linecap="butt"/>
<line x1="112.16" y1="365.31" x2="116.16" y2="365.31" stroke="#000" stroke-width="0.7" stroke-linecap="butt"/>
<line x1="112.16" y1="368.23" x2="116.16" y2="368.23" stroke="#000" stroke-width="0.7" stroke-linecap="butt"/>
<circle cx="26.20" cy="372.17" r="1.85" fill="#fff" stroke="#000" stroke-width="0.9"/>
<circle cx="37.20" cy="331.29" r="1.85" fill="#fff" stroke="#000" stroke-width="0.9"/>
<circle cx="48.19" cy="333.48" r="1.85" fill="#fff" stroke="#000" stroke-width="0.9"/>
<circle cx="59.19" cy="339.76" r="1.85" fill="#fff" stroke="#000" stroke-width="0.9"/>
<circle cx="70.18" cy="349.83" r="1.85" fill="#fff" stroke="#000" stroke-width="0.9"/>
<circle cx="114.16" cy="366.77" r="1.85" fill="#fff" stroke="#000" stroke-width="0.9"/>
<line x1="26.20" y1="299.40" x2="26.20" y2="388.00" stroke="#000" stroke-width="1" stroke-linecap="butt"/>
<line x1="25.70" y1="387.50" x2="136.65" y2="387.50" stroke="#000" stroke-width="1" stroke-linecap="butt"/>
<line x1="23.20" y1="387.50" x2="26.20" y2="387.50" stroke="#000" stroke-width="1" stroke-linecap="butt"/>
<text x="23.20" y="389.95" font-size="7.1" text-anchor="end" font-weight="bold" fill="#000">0</text>
<line x1="23.20" y1="358.30" x2="26.20" y2="358.30" stroke="#000" stroke-width="1" stroke-linecap="butt"/>
<text x="23.20" y="360.75" font-size="7.1" text-anchor="end" font-weight="bold" fill="#000">200</text>
<line x1="23.20" y1="329.10" x2="26.20" y2="329.10" stroke="#000" stroke-width="1" stroke-linecap="butt"/>
<text x="23.20" y="331.55" font-size="7.1" text-anchor="end" font-weight="bold" fill="#000">400</text>
<line x1="23.20" y1="299.90" x2="26.20" y2="299.90" stroke="#000" stroke-width="1" stroke-linecap="butt"/>
<text x="23.20" y="302.35" font-size="7.1" text-anchor="end" font-weight="bold" fill="#000">600</text>
<line x1="26.20" y1="387.50" x2="26.20" y2="390.00" stroke="#000" stroke-width="1" stroke-linecap="butt"/>
<text x="26.20" y="396.69" font-size="7.5" text-anchor="middle" font-weight="bold" fill="#000">0</text>
<line x1="62.85" y1="387.50" x2="62.85" y2="390.00" stroke="#000" stroke-width="1" stroke-linecap="butt"/>
<text x="62.85" y="396.69" font-size="7.5" text-anchor="middle" font-weight="bold" fill="#000">50</text>
<line x1="99.50" y1="387.50" x2="99.50" y2="390.00" stroke="#000" stroke-width="1" stroke-linecap="butt"/>
<text x="99.50" y="396.69" font-size="7.5" text-anchor="middle" font-weight="bold" fill="#000">100</text>
<line x1="136.15" y1="387.50" x2="136.15" y2="390.00" stroke="#000" stroke-width="1" stroke-linecap="butt"/>
<text x="136.15" y="396.69" font-size="7.5" text-anchor="middle" font-weight="bold" fill="#000">150</text>
<text font-size="8.8" text-anchor="middle" font-weight="bold" transform="translate(8.94 336.80) rotate(-90)">Glucose mg/dL</text>
<text x="80.80" y="404.26" font-size="7.7" text-anchor="middle" font-weight="bold" fill="#000">Minutes</text>
<circle cx="69.50" cy="290.50" r="1.8" fill="#fff" stroke="#000" stroke-width="0.9"/>
<circle cx="69.50" cy="298.30" r="1.85" fill="#000" stroke="#000" stroke-width="0.2"/>
<polygon points="69.50,304.70 67.98,307.42 71.02,307.42" fill="#fff" stroke="#444" stroke-width="0.8"/>
<polygon points="69.50,316.30 67.79,313.24 71.21,313.24" fill="#000" stroke="#000" stroke-width="0.3"/>
<text x="74.30" y="292.92" font-size="7.0" text-anchor="start" font-weight="bold" fill="#000">Floxed-Chow diet</text>
<text x="74.30" y="300.72" font-size="7.0" text-anchor="start" font-weight="bold" fill="#000">E-CIDECtg-Chow Diet</text>
<text x="74.30" y="308.72" font-size="7.0" text-anchor="start" font-weight="bold" fill="#000">Floxed-HFD</text>
<text x="74.30" y="316.92" font-size="7.0" text-anchor="start" font-weight="bold" fill="#000">E-CIDECtg-HFD</text>
<text x="36.00" y="325.14" font-size="9.3" text-anchor="middle" font-weight="bold" fill="#111">***</text>
<text x="47.70" y="330.54" font-size="9.3" text-anchor="middle" font-weight="bold" fill="#111">****</text>
<text x="59.60" y="334.34" font-size="9.3" text-anchor="middle" font-weight="bold" fill="#111">***</text>
<text x="71.70" y="343.94" font-size="9.3" text-anchor="middle" font-weight="bold" fill="#111">****</text>
<text x="117.50" y="366.04" font-size="9.3" text-anchor="middle" font-weight="bold" fill="#111">*</text>
<text x="38.10" y="353.97" font-size="5.7" text-anchor="middle" font-weight="bold" fill="#222" stroke="#222" stroke-width="0.35">##</text>
<text x="47.40" y="353.97" font-size="5.7" text-anchor="middle" font-weight="bold" fill="#222" stroke="#222" stroke-width="0.35">##</text>
<text x="58.00" y="361.57" font-size="5.7" text-anchor="middle" font-weight="bold" fill="#222" stroke="#222" stroke-width="0.35">##</text>
<text x="68.70" y="366.97" font-size="5.7" text-anchor="middle" font-weight="bold" fill="#222" stroke="#222" stroke-width="0.35">#</text>
<polyline points="26.70,468.00 34.26,470.79 41.82,484.74 49.38,484.74 56.94,484.74 87.18,484.74 117.42,477.49" fill="none" stroke="#2a2a2a" stroke-width="0.75" stroke-linejoin="miter"/>
<line x1="34.26" y1="468.56" x2="34.26" y2="473.02" stroke="#666" stroke-width="0.7" stroke-linecap="butt"/>
<line x1="32.26" y1="468.56" x2="36.26" y2="468.56" stroke="#666" stroke-width="0.7" stroke-linecap="butt"/>
<line x1="32.26" y1="473.02" x2="36.26" y2="473.02" stroke="#666" stroke-width="0.7" stroke-linecap="butt"/>
<line x1="41.82" y1="481.95" x2="41.82" y2="487.53" stroke="#666" stroke-width="0.7" stroke-linecap="butt"/>
<line x1="39.82" y1="481.95" x2="43.82" y2="481.95" stroke="#666" stroke-width="0.7" stroke-linecap="butt"/>
<line x1="39.82" y1="487.53" x2="43.82" y2="487.53" stroke="#666" stroke-width="0.7" stroke-linecap="butt"/>
<line x1="49.38" y1="481.95" x2="49.38" y2="487.53" stroke="#666" stroke-width="0.7" stroke-linecap="butt"/>
<line x1="47.38" y1="481.95" x2="51.38" y2="481.95" stroke="#666" stroke-width="0.7" stroke-linecap="butt"/>
<line x1="47.38" y1="487.53" x2="51.38" y2="487.53" stroke="#666" stroke-width="0.7" stroke-linecap="butt"/>
<line x1="56.94" y1="481.95" x2="56.94" y2="487.53" stroke="#666" stroke-width="0.7" stroke-linecap="butt"/>
<line x1="54.94" y1="481.95" x2="58.94" y2="481.95" stroke="#666" stroke-width="0.7" stroke-linecap="butt"/>
<line x1="54.94" y1="487.53" x2="58.94" y2="487.53" stroke="#666" stroke-width="0.7" stroke-linecap="butt"/>
<line x1="87.18" y1="482.51" x2="87.18" y2="486.97" stroke="#666" stroke-width="0.7" stroke-linecap="butt"/>
<line x1="85.18" y1="482.51" x2="89.18" y2="482.51" stroke="#666" stroke-width="0.7" stroke-linecap="butt"/>
<line x1="85.18" y1="486.97" x2="89.18" y2="486.97" stroke="#666" stroke-width="0.7" stroke-linecap="butt"/>
<line x1="117.42" y1="474.70" x2="117.42" y2="480.28" stroke="#666" stroke-width="0.7" stroke-linecap="butt"/>
<line x1="115.42" y1="474.70" x2="119.42" y2="474.70" stroke="#666" stroke-width="0.7" stroke-linecap="butt"/>
<line x1="115.42" y1="480.28" x2="119.42" y2="480.28" stroke="#666" stroke-width="0.7" stroke-linecap="butt"/>
<circle cx="26.70" cy="468.00" r="1.8" fill="#fff" stroke="#505050" stroke-width="0.85"/>
<circle cx="34.26" cy="470.79" r="1.8" fill="#fff" stroke="#505050" stroke-width="0.85"/>
<circle cx="41.82" cy="484.74" r="1.8" fill="#fff" stroke="#505050" stroke-width="0.85"/>
<circle cx="49.38" cy="484.74" r="1.8" fill="#fff" stroke="#505050" stroke-width="0.85"/>
<circle cx="56.94" cy="484.74" r="1.8" fill="#fff" stroke="#505050" stroke-width="0.85"/>
<circle cx="87.18" cy="484.74" r="1.8" fill="#fff" stroke="#505050" stroke-width="0.85"/>
<circle cx="117.42" cy="477.49" r="1.8" fill="#fff" stroke="#505050" stroke-width="0.85"/>
<polyline points="26.70,468.00 34.26,463.81 41.82,482.51 49.38,490.04 56.94,489.76 87.18,486.41 117.42,484.74" fill="none" stroke="#2a2a2a" stroke-width="0.75" stroke-linejoin="miter"/>
<line x1="34.26" y1="461.58" x2="34.26" y2="466.05" stroke="#666" stroke-width="0.7" stroke-linecap="butt"/>
<line x1="32.26" y1="461.58" x2="36.26" y2="461.58" stroke="#666" stroke-width="0.7" stroke-linecap="butt"/>
<line x1="32.26" y1="466.05" x2="36.26" y2="466.05" stroke="#666" stroke-width="0.7" stroke-linecap="butt"/>
<line x1="41.82" y1="479.72" x2="41.82" y2="485.30" stroke="#666" stroke-width="0.7" stroke-linecap="butt"/>
<line x1="39.82" y1="479.72" x2="43.82" y2="479.72" stroke="#666" stroke-width="0.7" stroke-linecap="butt"/>
<line x1="39.82" y1="485.30" x2="43.82" y2="485.30" stroke="#666" stroke-width="0.7" stroke-linecap="butt"/>
<line x1="49.38" y1="487.25" x2="49.38" y2="492.83" stroke="#666" stroke-width="0.7" stroke-linecap="butt"/>
<line x1="47.38" y1="487.25" x2="51.38" y2="487.25" stroke="#666" stroke-width="0.7" stroke-linecap="butt"/>
<line x1="47.38" y1="492.83" x2="51.38" y2="492.83" stroke="#666" stroke-width="0.7" stroke-linecap="butt"/>
<line x1="56.94" y1="486.97" x2="56.94" y2="492.55" stroke="#666" stroke-width="0.7" stroke-linecap="butt"/>
<line x1="54.94" y1="486.97" x2="58.94" y2="486.97" stroke="#666" stroke-width="0.7" stroke-linecap="butt"/>
<line x1="54.94" y1="492.55" x2="58.94" y2="492.55" stroke="#666" stroke-width="0.7" stroke-linecap="butt"/>
<line x1="87.18" y1="484.18" x2="87.18" y2="488.65" stroke="#666" stroke-width="0.7" stroke-linecap="butt"/>
<line x1="85.18" y1="484.18" x2="89.18" y2="484.18" stroke="#666" stroke-width="0.7" stroke-linecap="butt"/>
<line x1="85.18" y1="488.65" x2="89.18" y2="488.65" stroke="#666" stroke-width="0.7" stroke-linecap="butt"/>
<line x1="117.42" y1="481.95" x2="117.42" y2="487.53" stroke="#666" stroke-width="0.7" stroke-linecap="butt"/>
<line x1="115.42" y1="481.95" x2="119.42" y2="481.95" stroke="#666" stroke-width="0.7" stroke-linecap="butt"/>
<line x1="115.42" y1="487.53" x2="119.42" y2="487.53" stroke="#666" stroke-width="0.7" stroke-linecap="butt"/>
<polygon points="26.70,466.20 24.99,469.26 28.41,469.26" fill="#fff" stroke="#505050" stroke-width="0.85"/>
<polygon points="34.26,462.01 32.55,465.07 35.97,465.07" fill="#fff" stroke="#505050" stroke-width="0.85"/>
<polygon points="41.82,480.71 40.11,483.77 43.53,483.77" fill="#fff" stroke="#505050" stroke-width="0.85"/>
<polygon points="49.38,488.24 47.67,491.30 51.09,491.30" fill="#fff" stroke="#505050" stroke-width="0.85"/>
<polygon points="56.94,487.96 55.23,491.02 58.65,491.02" fill="#fff" stroke="#505050" stroke-width="0.85"/>
<polygon points="87.18,484.61 85.47,487.67 88.89,487.67" fill="#fff" stroke="#505050" stroke-width="0.85"/>
<polygon points="117.42,482.94 115.71,486.00 119.13,486.00" fill="#fff" stroke="#505050" stroke-width="0.85"/>
<polyline points="26.70,468.00 34.26,471.35 41.82,490.04 49.38,494.23 56.94,496.46 87.18,488.09 117.42,480.28" fill="none" stroke="#2a2a2a" stroke-width="0.75" stroke-linejoin="miter"/>
<line x1="34.26" y1="469.12" x2="34.26" y2="473.58" stroke="#000" stroke-width="0.7" stroke-linecap="butt"/>
<line x1="32.26" y1="469.12" x2="36.26" y2="469.12" stroke="#000" stroke-width="0.7" stroke-linecap="butt"/>
<line x1="32.26" y1="473.58" x2="36.26" y2="473.58" stroke="#000" stroke-width="0.7" stroke-linecap="butt"/>
<line x1="41.82" y1="487.81" x2="41.82" y2="492.27" stroke="#000" stroke-width="0.7" stroke-linecap="butt"/>
<line x1="39.82" y1="487.81" x2="43.82" y2="487.81" stroke="#000" stroke-width="0.7" stroke-linecap="butt"/>
<line x1="39.82" y1="492.27" x2="43.82" y2="492.27" stroke="#000" stroke-width="0.7" stroke-linecap="butt"/>
<line x1="49.38" y1="491.44" x2="49.38" y2="497.02" stroke="#000" stroke-width="0.7" stroke-linecap="butt"/>
<line x1="47.38" y1="491.44" x2="51.38" y2="491.44" stroke="#000" stroke-width="0.7" stroke-linecap="butt"/>
<line x1="47.38" y1="497.02" x2="51.38" y2="497.02" stroke="#000" stroke-width="0.7" stroke-linecap="butt"/>
<line x1="56.94" y1="493.67" x2="56.94" y2="499.25" stroke="#000" stroke-width="0.7" stroke-linecap="butt"/>
<line x1="54.94" y1="493.67" x2="58.94" y2="493.67" stroke="#000" stroke-width="0.7" stroke-linecap="butt"/>
<line x1="54.94" y1="499.25" x2="58.94" y2="499.25" stroke="#000" stroke-width="0.7" stroke-linecap="butt"/>
<line x1="87.18" y1="485.86" x2="87.18" y2="490.32" stroke="#000" stroke-width="0.7" stroke-linecap="butt"/>
<line x1="85.18" y1="485.86" x2="89.18" y2="485.86" stroke="#000" stroke-width="0.7" stroke-linecap="butt"/>
<line x1="85.18" y1="490.32" x2="89.18" y2="490.32" stroke="#000" stroke-width="0.7" stroke-linecap="butt"/>
<line x1="117.42" y1="477.49" x2="117.42" y2="483.07" stroke="#000" stroke-width="0.7" stroke-linecap="butt"/>
<line x1="115.42" y1="477.49" x2="119.42" y2="477.49" stroke="#000" stroke-width="0.7" stroke-linecap="butt"/>
<line x1="115.42" y1="483.07" x2="119.42" y2="483.07" stroke="#000" stroke-width="0.7" stroke-linecap="butt"/>
<polygon points="26.70,470.00 24.80,466.60 28.60,466.60" fill="#000" stroke="#000" stroke-width="0.3"/>
<polygon points="34.26,473.35 32.36,469.95 36.16,469.95" fill="#000" stroke="#000" stroke-width="0.3"/>
<polygon points="41.82,492.04 39.92,488.64 43.72,488.64" fill="#000" stroke="#000" stroke-width="0.3"/>
<polygon points="49.38,496.23 47.48,492.83 51.28,492.83" fill="#000" stroke="#000" stroke-width="0.3"/>
<polygon points="56.94,498.46 55.04,495.06 58.84,495.06" fill="#000" stroke="#000" stroke-width="0.3"/>
<polygon points="87.18,490.09 85.28,486.69 89.08,486.69" fill="#000" stroke="#000" stroke-width="0.3"/>
<polygon points="117.42,482.28 115.52,478.88 119.32,478.88" fill="#000" stroke="#000" stroke-width="0.3"/>
<polyline points="26.70,468.00 34.26,478.83 41.82,496.46 49.38,501.48 56.94,499.25 87.18,488.65 117.42,478.83" fill="none" stroke="#2a2a2a" stroke-width="0.75" stroke-linejoin="miter"/>
<line x1="34.26" y1="477.15" x2="34.26" y2="480.50" stroke="#000" stroke-width="0.7" stroke-linecap="butt"/>
<line x1="32.26" y1="477.15" x2="36.26" y2="477.15" stroke="#000" stroke-width="0.7" stroke-linecap="butt"/>
<line x1="32.26" y1="480.50" x2="36.26" y2="480.50" stroke="#000" stroke-width="0.7" stroke-linecap="butt"/>
<line x1="41.82" y1="494.23" x2="41.82" y2="498.69" stroke="#000" stroke-width="0.7" stroke-linecap="butt"/>
<line x1="39.82" y1="494.23" x2="43.82" y2="494.23" stroke="#000" stroke-width="0.7" stroke-linecap="butt"/>
<line x1="39.82" y1="498.69" x2="43.82" y2="498.69" stroke="#000" stroke-width="0.7" stroke-linecap="butt"/>
<line x1="49.38" y1="499.25" x2="49.38" y2="503.71" stroke="#000" stroke-width="0.7" stroke-linecap="butt"/>
<line x1="47.38" y1="499.25" x2="51.38" y2="499.25" stroke="#000" stroke-width="0.7" stroke-linecap="butt"/>
<line x1="47.38" y1="503.71" x2="51.38" y2="503.71" stroke="#000" stroke-width="0.7" stroke-linecap="butt"/>
<line x1="56.94" y1="496.46" x2="56.94" y2="502.04" stroke="#000" stroke-width="0.7" stroke-linecap="butt"/>
<line x1="54.94" y1="496.46" x2="58.94" y2="496.46" stroke="#000" stroke-width="0.7" stroke-linecap="butt"/>
<line x1="54.94" y1="502.04" x2="58.94" y2="502.04" stroke="#000" stroke-width="0.7" stroke-linecap="butt"/>
<line x1="87.18" y1="486.41" x2="87.18" y2="490.88" stroke="#000" stroke-width="0.7" stroke-linecap="butt"/>
<line x1="85.18" y1="486.41" x2="89.18" y2="486.41" stroke="#000" stroke-width="0.7" stroke-linecap="butt"/>
<line x1="85.18" y1="490.88" x2="89.18" y2="490.88" stroke="#000" stroke-width="0.7" stroke-linecap="butt"/>
<line x1="117.42" y1="476.04" x2="117.42" y2="481.62" stroke="#000" stroke-width="0.7" stroke-linecap="butt"/>
<line x1="115.42" y1="476.04" x2="119.42" y2="476.04" stroke="#000" stroke-width="0.7" stroke-linecap="butt"/>
<line x1="115.42" y1="481.62" x2="119.42" y2="481.62" stroke="#000" stroke-width="0.7" stroke-linecap="butt"/>
<circle cx="26.70" cy="468.00" r="1.9" fill="#000" stroke="#000" stroke-width="0.2"/>
<circle cx="34.26" cy="478.83" r="1.9" fill="#000" stroke="#000" stroke-width="0.2"/>
<circle cx="41.82" cy="496.46" r="1.9" fill="#000" stroke="#000" stroke-width="0.2"/>
<circle cx="49.38" cy="501.48" r="1.9" fill="#000" stroke="#000" stroke-width="0.2"/>
<circle cx="56.94" cy="499.25" r="1.9" fill="#000" stroke="#000" stroke-width="0.2"/>
<circle cx="87.18" cy="488.65" r="1.9" fill="#000" stroke="#000" stroke-width="0.2"/>
<circle cx="117.42" cy="478.83" r="1.9" fill="#000" stroke="#000" stroke-width="0.2"/>
<line x1="27.00" y1="439.60" x2="27.00" y2="524.30" stroke="#000" stroke-width="1" stroke-linecap="butt"/>
<line x1="26.50" y1="523.80" x2="128.00" y2="523.80" stroke="#000" stroke-width="1" stroke-linecap="butt"/>
<line x1="24.00" y1="523.80" x2="27.00" y2="523.80" stroke="#000" stroke-width="1" stroke-linecap="butt"/>
<text x="24.00" y="526.25" font-size="7.1" text-anchor="end" font-weight="bold" fill="#000">0</text>
<line x1="24.00" y1="495.90" x2="27.00" y2="495.90" stroke="#000" stroke-width="1" stroke-linecap="butt"/>
<text x="24.00" y="498.35" font-size="7.1" text-anchor="end" font-weight="bold" fill="#000">50</text>
<line x1="24.00" y1="468.00" x2="27.00" y2="468.00" stroke="#000" stroke-width="1" stroke-linecap="butt"/>
<text x="24.00" y="470.45" font-size="7.1" text-anchor="end" font-weight="bold" fill="#000">100</text>
<line x1="24.00" y1="440.10" x2="27.00" y2="440.10" stroke="#000" stroke-width="1" stroke-linecap="butt"/>
<text x="24.00" y="442.55" font-size="7.1" text-anchor="end" font-weight="bold" fill="#000">150</text>
<line x1="26.70" y1="523.80" x2="26.70" y2="526.30" stroke="#000" stroke-width="1" stroke-linecap="butt"/>
<text x="26.70" y="533.59" font-size="7.5" text-anchor="middle" font-weight="bold" fill="#000">0</text>
<line x1="51.90" y1="523.80" x2="51.90" y2="526.30" stroke="#000" stroke-width="1" stroke-linecap="butt"/>
<text x="51.90" y="533.59" font-size="7.5" text-anchor="middle" font-weight="bold" fill="#000">50</text>
<line x1="77.10" y1="523.80" x2="77.10" y2="526.30" stroke="#000" stroke-width="1" stroke-linecap="butt"/>
<text x="77.10" y="533.59" font-size="7.5" text-anchor="middle" font-weight="bold" fill="#000">100</text>
<line x1="102.30" y1="523.80" x2="102.30" y2="526.30" stroke="#000" stroke-width="1" stroke-linecap="butt"/>
<text x="102.30" y="533.59" font-size="7.5" text-anchor="middle" font-weight="bold" fill="#000">150</text>
<line x1="127.50" y1="523.80" x2="127.50" y2="526.30" stroke="#000" stroke-width="1" stroke-linecap="butt"/>
<text x="127.50" y="533.59" font-size="7.5" text-anchor="middle" font-weight="bold" fill="#000">200</text>
<text font-size="8.5" text-anchor="middle" font-weight="bold" transform="translate(8.93 482.2) rotate(-90)">Glucose (mg/dL) <tspan font-weight="normal">% Basal</tspan></text>
<text x="77.10" y="540.82" font-size="7.6" text-anchor="middle" font-weight="bold" fill="#000">Minutes</text>
<line x1="69.90" y1="443.30" x2="75.50" y2="443.30" stroke="#666" stroke-width="0.7" stroke-linecap="butt"/>
<line x1="69.90" y1="451.80" x2="75.50" y2="451.80" stroke="#000" stroke-width="0.7" stroke-linecap="butt"/>
<line x1="69.90" y1="460.00" x2="75.50" y2="460.00" stroke="#666" stroke-width="0.7" stroke-linecap="butt"/>
<line x1="69.90" y1="468.80" x2="75.50" y2="468.80" stroke="#000" stroke-width="0.7" stroke-linecap="butt"/>
<circle cx="72.70" cy="443.30" r="1.6" fill="#fff" stroke="#666" stroke-width="0.8"/>
<circle cx="72.70" cy="451.80" r="1.7" fill="#000" stroke="#000" stroke-width="0.2"/>
<polygon points="72.70,458.30 71.09,461.19 74.31,461.19" fill="#fff" stroke="#666" stroke-width="0.7"/>
<polygon points="72.70,470.60 70.99,467.54 74.41,467.54" fill="#000" stroke="#000" stroke-width="0.3"/>
<text x="78.70" y="445.80" font-size="7.25" text-anchor="start" font-weight="bold" fill="#000">Floxed-Chow diet</text>
<text x="78.70" y="454.30" font-size="7.25" text-anchor="start" font-weight="bold" fill="#000">E-CIDECtg-Chow Diet</text>
<text x="78.70" y="462.50" font-size="7.25" text-anchor="start" font-weight="bold" fill="#000">Floxed-HFD</text>
<text x="78.70" y="471.30" font-size="7.25" text-anchor="start" font-weight="bold" fill="#000">E-CIDECtg-HFD</text>
<text x="40.00" y="504.93" font-size="5.6" text-anchor="middle" font-weight="bold" fill="#333" stroke="#333" stroke-width="0.3">#</text>
<text x="40.00" y="514.34" font-size="8.5" text-anchor="middle" font-weight="bold" fill="#2a2a2a">*</text>
<text x="48.80" y="509.93" font-size="5.6" text-anchor="middle" font-weight="bold" fill="#333" stroke="#333" stroke-width="0.3">##</text>
<text x="48.80" y="518.13" font-size="8.5" text-anchor="middle" font-weight="bold" fill="#2a2a2a">*</text>
<text x="57.00" y="506.93" font-size="5.6" text-anchor="middle" font-weight="bold" fill="#333" stroke="#333" stroke-width="0.3">#</text>
<text x="58.80" y="516.34" font-size="8.5" text-anchor="middle" font-weight="bold" fill="#2a2a2a">***</text>
</svg>
</body></html>
